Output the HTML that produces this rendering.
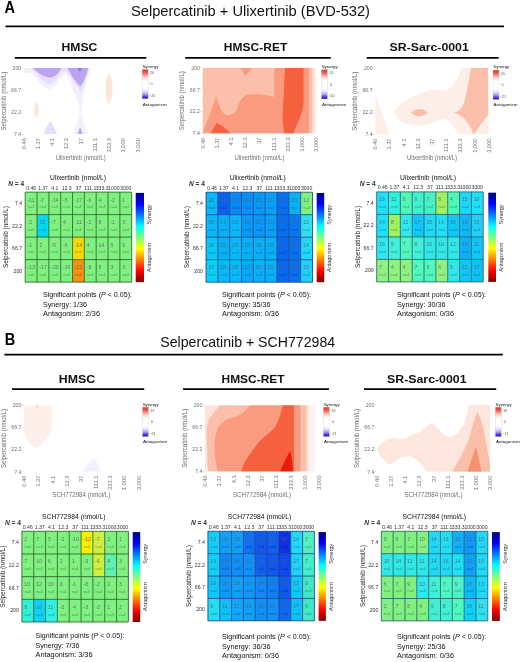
<!DOCTYPE html>
<html><head><meta charset="utf-8"><title>Selpercatinib combination synergy</title>
<style>
html,body{margin:0;padding:0;background:#fff;}
body{width:520px;height:662px;overflow:hidden;}
svg.fig{display:block;font-family:'Liberation Sans', Arial, sans-serif;}
</style></head>
<body>
<svg class="fig" width="520" height="662" viewBox="0 0 520 662">
<rect width="520" height="662" fill="#fff"/>
<text x="4.60" y="12.60" font-size="15.6" font-weight="bold" textLength="10.5" lengthAdjust="spacingAndGlyphs">A</text>
<text x="131.00" y="16.40" font-size="14.1" fill="#111" textLength="239" lengthAdjust="spacingAndGlyphs">Selpercatinib + Ulixertinib (BVD-532)</text>
<line x1="5.5" y1="26.3" x2="504" y2="26.3" stroke="#000" stroke-width="1.7"/>
<text x="61.50" y="50.60" font-size="11.7" font-weight="bold" fill="#111" textLength="35.8" lengthAdjust="spacingAndGlyphs">HMSC</text>
<line x1="14.8" y1="57.8" x2="146.3" y2="57.8" stroke="#000" stroke-width="1.7"/>
<text x="223.80" y="50.60" font-size="11.7" font-weight="bold" fill="#111" textLength="63.5" lengthAdjust="spacingAndGlyphs">HMSC-RET</text>
<line x1="185.2" y1="57.8" x2="330.8" y2="57.8" stroke="#000" stroke-width="1.7"/>
<text x="389.60" y="50.60" font-size="11.7" font-weight="bold" fill="#111" textLength="79.19999999999999" lengthAdjust="spacingAndGlyphs">SR-Sarc-0001</text>
<line x1="366.7" y1="57.8" x2="498.6" y2="57.8" stroke="#000" stroke-width="1.7"/>
<text x="4.80" y="345.00" font-size="15.6" font-weight="bold" textLength="10.5" lengthAdjust="spacingAndGlyphs">B</text>
<text x="160.30" y="346.60" font-size="14.1" fill="#111" textLength="174.8" lengthAdjust="spacingAndGlyphs">Selpercatinib + SCH772984</text>
<line x1="4.4" y1="354.6" x2="502.8" y2="354.6" stroke="#000" stroke-width="1.7"/>
<text x="58.80" y="383.10" font-size="11.7" font-weight="bold" fill="#111" textLength="36.3" lengthAdjust="spacingAndGlyphs">HMSC</text>
<line x1="12.1" y1="389.2" x2="144.2" y2="389.2" stroke="#000" stroke-width="1.7"/>
<text x="221.50" y="383.10" font-size="11.7" font-weight="bold" fill="#111" textLength="63.10000000000002" lengthAdjust="spacingAndGlyphs">HMSC-RET</text>
<line x1="183.1" y1="389.2" x2="328.9" y2="389.2" stroke="#000" stroke-width="1.7"/>
<text x="387.10" y="383.10" font-size="11.7" font-weight="bold" fill="#111" textLength="79.39999999999998" lengthAdjust="spacingAndGlyphs">SR-Sarc-0001</text>
<line x1="364" y1="389.2" x2="496.2" y2="389.2" stroke="#000" stroke-width="1.7"/>
<svg x="23.8" y="68.0" width="113.8" height="66.19999999999999" viewBox="0 0 100 100" preserveAspectRatio="none" overflow="hidden">
<path d="M0,0 L58,0 C56,15 53,35 51.5,50 C51,58 50.5,62 50.5,64 C51,75 54,90 56.3,100 L44,100 C46,90 48.5,75 49,64 C49,60 48,52 46,44 C43,35 41,22 38,12 C36,10 34,12 32,16 C29,24 26,32 22,32 C17,32 12,16 7,8 L0,7 Z" fill="#f3effd"/>
<path d="M6,0 L58,0 C56,12 53,28 50,35 C47,30 43,18 39,8 C37,4 35,4 33,6 C30,12 27,24 23,24 C18,24 12,10 6,0 Z" fill="#e6defb"/>
<path d="M8,0 L33,0 C31,6 28,14 23,14.5 C17,14 12,6 8,0 Z" fill="#b9a3f3"/>
<path d="M38.5,0 L56.5,0 C55,12 52,24 49.5,27.5 C46,22 41,10 38.5,0 Z" fill="#b9a3f3"/>
<path d="M47.3,0 L51,0 C50.5,3 49.5,5 49,5.2 C48.5,5 47.8,3 47.3,0 Z" fill="#9478e6"/>
<path d="M17.3,100 C19,92 21.5,84 23.3,80.4 C25,84 27.5,92 29.2,100 Z" fill="#e6defb"/>
<path d="M47.5,100 C48.5,95 49,91 49.5,89.6 C50,91 50.8,95 51.6,100 Z" fill="#b9a3f3"/>
<path d="M11.1,50.8 C8,58 8,68 11.1,74.8 C14.2,68 14.2,58 11.1,50.8 Z" fill="#fde8de"/>
<path d="M11.6,64 C11,65 11,66.5 11.6,67.5 C12.2,66.5 12.2,65 11.6,64 Z" fill="#f8dccf"/>
<path d="M74.8,6.6 C70.5,18 70.5,44 74.8,55.4 C79.1,44 79.1,18 74.8,6.6 Z" fill="#fce6dc"/>
</svg>
<text x="21.20" y="69.80" font-size="5.2" text-anchor="end" fill="#707070">200</text>
<line x1="21.8" y1="68.0" x2="23.3" y2="68.0" stroke="#999" stroke-width="0.4"/>
<text x="21.20" y="91.87" font-size="5.2" text-anchor="end" fill="#707070">66.7</text>
<line x1="21.8" y1="90.06666666666666" x2="23.3" y2="90.06666666666666" stroke="#999" stroke-width="0.4"/>
<text x="21.20" y="113.93" font-size="5.2" text-anchor="end" fill="#707070">22.2</text>
<line x1="21.8" y1="112.13333333333333" x2="23.3" y2="112.13333333333333" stroke="#999" stroke-width="0.4"/>
<text x="21.20" y="136.00" font-size="5.2" text-anchor="end" fill="#707070">7.4</text>
<line x1="21.8" y1="134.2" x2="23.3" y2="134.2" stroke="#999" stroke-width="0.4"/>
<text transform="translate(25.80,138.20) rotate(-90)" font-size="5.7" text-anchor="end" fill="#707070">0.46</text>
<text transform="translate(40.02,138.20) rotate(-90)" font-size="5.7" text-anchor="end" fill="#707070">1.37</text>
<text transform="translate(54.25,138.20) rotate(-90)" font-size="5.7" text-anchor="end" fill="#707070">4.1</text>
<text transform="translate(68.47,138.20) rotate(-90)" font-size="5.7" text-anchor="end" fill="#707070">12.3</text>
<text transform="translate(82.70,138.20) rotate(-90)" font-size="5.7" text-anchor="end" fill="#707070">37</text>
<text transform="translate(96.92,138.20) rotate(-90)" font-size="5.7" text-anchor="end" fill="#707070">111.1</text>
<text transform="translate(111.15,138.20) rotate(-90)" font-size="5.7" text-anchor="end" fill="#707070">333.3</text>
<text transform="translate(125.38,138.20) rotate(-90)" font-size="5.7" text-anchor="end" fill="#707070">1,000</text>
<text transform="translate(139.60,138.20) rotate(-90)" font-size="5.7" text-anchor="end" fill="#707070">3,000</text>
<text x="80.70" y="159.60" font-size="6.4" text-anchor="middle" fill="#707070" textLength="50" lengthAdjust="spacingAndGlyphs">Ulixertinib (nmol/L)</text>
<text transform="translate(5.60,101.10) rotate(-90)" font-size="6.4" text-anchor="middle" fill="#707070" textLength="59" lengthAdjust="spacingAndGlyphs">Selpercatinib (nmol/L)</text>
<defs><linearGradient id="lg2368" x1="0" y1="0" x2="0" y2="1"><stop offset="0" stop-color="#e8382e"/><stop offset="0.1" stop-color="#f05246"/><stop offset="0.2" stop-color="#f8a49c"/><stop offset="0.3" stop-color="#fde6e3"/><stop offset="0.4" stop-color="#ffffff"/><stop offset="0.65" stop-color="#ffffff"/><stop offset="0.75" stop-color="#e6dffa"/><stop offset="0.85" stop-color="#a898f0"/><stop offset="0.93" stop-color="#4a3ae0"/><stop offset="1" stop-color="#2010d0"/></linearGradient></defs>
<rect x="142.1" y="69.3" width="6" height="29.5" fill="url(#lg2368)" stroke="#c8c8c8" stroke-width="0.3"/>
<text x="142.40" y="67.70" font-size="4.4" fill="#111" textLength="16" lengthAdjust="spacingAndGlyphs">Synergy</text>
<text x="142.70" y="105.50" font-size="4.4" fill="#111" textLength="24" lengthAdjust="spacingAndGlyphs">Antagonism</text>
<text x="150.10" y="73.80" font-size="3.6" fill="#555">20</text>
<text x="150.60" y="85.30" font-size="3.6" fill="#555">0</text>
<text x="149.10" y="96.80" font-size="3.6" fill="#555">−20</text>
<svg x="202.5" y="67.9" width="113.80000000000001" height="65.6" viewBox="0 0 100 100" preserveAspectRatio="none" overflow="hidden">
<path d="M0,0 L100,0 L100,100 L0,100 Z" fill="#fcbfab"/>
<path d="M96.6,0 L99,0 L99,100 L96.6,100 Z" fill="#fde3d9"/>
<path d="M99,0 L100,0 L100,100 L99,100 Z" fill="#ffffff"/>
<path d="M0.4,98 C4,80 9,60 12,42.8 C14,55 16,66 18.7,69 C21,72 23,73 24.2,72 C27,70 29,68 30,65 C31,60 32,52 34,48 C36,44 38,41 40,41 C43,40 45,40 47,40 C49,40 50,40 50.5,40 L63.1,43.8 L63.1,0 L93.5,0 L93.5,100 L0,100 Z" fill="#fa9a7e"/>
<path d="M33.4,0 L43.7,0 C42,4 39.5,10 37.7,11.9 C36.5,10 35,5 33.4,0 Z" fill="#fa9a7e"/>
<path d="M72.5,0 L88.8,0 C88.8,20 88.8,45 88.8,54.6 C88,65 86.5,72 85.1,78.2 C83,86 81,94 79.9,100 L72,100 C71,90 70.4,80 70.4,78 C70.5,60 71.4,45 71.4,40 C71.8,25 72.2,10 72.5,0 Z" fill="#f5603e"/>
<path d="M6.9,100 C9,94 11,88 12.3,84 C14,85 16,88 17.7,89 C20,93 23,97 25.2,100 Z" fill="#f5603e"/>
</svg>
<text x="199.90" y="69.70" font-size="5.2" text-anchor="end" fill="#707070">200</text>
<line x1="200.5" y1="67.9" x2="202.0" y2="67.9" stroke="#999" stroke-width="0.4"/>
<text x="199.90" y="91.57" font-size="5.2" text-anchor="end" fill="#707070">66.7</text>
<line x1="200.5" y1="89.76666666666667" x2="202.0" y2="89.76666666666667" stroke="#999" stroke-width="0.4"/>
<text x="199.90" y="113.43" font-size="5.2" text-anchor="end" fill="#707070">22.2</text>
<line x1="200.5" y1="111.63333333333333" x2="202.0" y2="111.63333333333333" stroke="#999" stroke-width="0.4"/>
<text x="199.90" y="135.30" font-size="5.2" text-anchor="end" fill="#707070">7.4</text>
<line x1="200.5" y1="133.5" x2="202.0" y2="133.5" stroke="#999" stroke-width="0.4"/>
<text transform="translate(204.50,137.50) rotate(-90)" font-size="5.7" text-anchor="end" fill="#707070">0.46</text>
<text transform="translate(218.72,137.50) rotate(-90)" font-size="5.7" text-anchor="end" fill="#707070">1.37</text>
<text transform="translate(232.95,137.50) rotate(-90)" font-size="5.7" text-anchor="end" fill="#707070">4.1</text>
<text transform="translate(247.18,137.50) rotate(-90)" font-size="5.7" text-anchor="end" fill="#707070">12.3</text>
<text transform="translate(261.40,137.50) rotate(-90)" font-size="5.7" text-anchor="end" fill="#707070">37</text>
<text transform="translate(275.62,137.50) rotate(-90)" font-size="5.7" text-anchor="end" fill="#707070">111.1</text>
<text transform="translate(289.85,137.50) rotate(-90)" font-size="5.7" text-anchor="end" fill="#707070">333.3</text>
<text transform="translate(304.08,137.50) rotate(-90)" font-size="5.7" text-anchor="end" fill="#707070">1,000</text>
<text transform="translate(318.30,137.50) rotate(-90)" font-size="5.7" text-anchor="end" fill="#707070">3,000</text>
<text x="259.40" y="159.50" font-size="6.4" text-anchor="middle" fill="#707070" textLength="50" lengthAdjust="spacingAndGlyphs">Ulixertinib (nmol/L)</text>
<text transform="translate(184.30,100.70) rotate(-90)" font-size="6.4" text-anchor="middle" fill="#707070" textLength="59" lengthAdjust="spacingAndGlyphs">Selpercatinib (nmol/L)</text>
<defs><linearGradient id="lg20267" x1="0" y1="0" x2="0" y2="1"><stop offset="0" stop-color="#e8382e"/><stop offset="0.1" stop-color="#f05246"/><stop offset="0.2" stop-color="#f8a49c"/><stop offset="0.3" stop-color="#fde6e3"/><stop offset="0.4" stop-color="#ffffff"/><stop offset="0.65" stop-color="#ffffff"/><stop offset="0.75" stop-color="#e6dffa"/><stop offset="0.85" stop-color="#a898f0"/><stop offset="0.93" stop-color="#4a3ae0"/><stop offset="1" stop-color="#2010d0"/></linearGradient></defs>
<rect x="321.4" y="69.5" width="6" height="29.5" fill="url(#lg20267)" stroke="#c8c8c8" stroke-width="0.3"/>
<text x="321.70" y="67.90" font-size="4.4" fill="#111" textLength="16" lengthAdjust="spacingAndGlyphs">Synergy</text>
<text x="322.00" y="105.70" font-size="4.4" fill="#111" textLength="24" lengthAdjust="spacingAndGlyphs">Antagonism</text>
<text x="329.40" y="74.00" font-size="3.6" fill="#555">20</text>
<text x="329.90" y="85.50" font-size="3.6" fill="#555">0</text>
<text x="328.40" y="97.00" font-size="3.6" fill="#555">−20</text>
<svg x="375.2" y="68.0" width="113.60000000000002" height="66.5" viewBox="0 0 100 100" preserveAspectRatio="none" overflow="hidden">
<path d="M0,38 L0,100 L12.3,100 Z" fill="#fdeee8"/>
<path d="M16.5,67 C19,60 22,54 25.1,50.7 C29,46 33,42 37.8,39.8 C42,37 46,34 50.4,32.5 C54,31 58,35 61,34.3 C64,33 67,28 69.5,23.5 C72,18 74,10 75.8,1.8 L76,0 L100,0 L100,100 L73.7,100 C71,94 69,88 67.3,85 C65,80 63,76 61,76 C57,78 54,80 50.4,81.4 C46,84 42,87 37.8,86.8 C33,86 28,84 23,81.4 C20,76 18,71 16.5,67 Z" fill="#fdeee8"/>
<path d="M84.6,0 L99.4,0 L99.4,70 L86.7,100 C85,93 84,88 82.3,85 C80,80 79,76 76.8,73.7 C74,71 71,68 69.1,67.1 C71,66.5 72.5,65.5 73.6,64.3 C76,61 77,57 78,53 C79.5,45 80.5,36 81.3,28.6 C82.5,18 83.5,8 84.6,0 Z" fill="#fbbea8"/>
<path d="M31.4,67 C34,63 36,61.6 38.8,61.6 C42,61.6 44,63 46.2,67 C44,71 42,72.4 38.8,72.4 C36,72.4 34,71 31.4,67 Z" fill="#fbbea8"/>
</svg>
<text x="372.60" y="69.80" font-size="5.2" text-anchor="end" fill="#707070">200</text>
<line x1="373.2" y1="68.0" x2="374.7" y2="68.0" stroke="#999" stroke-width="0.4"/>
<text x="372.60" y="91.97" font-size="5.2" text-anchor="end" fill="#707070">66.7</text>
<line x1="373.2" y1="90.16666666666667" x2="374.7" y2="90.16666666666667" stroke="#999" stroke-width="0.4"/>
<text x="372.60" y="114.13" font-size="5.2" text-anchor="end" fill="#707070">22.2</text>
<line x1="373.2" y1="112.33333333333334" x2="374.7" y2="112.33333333333334" stroke="#999" stroke-width="0.4"/>
<text x="372.60" y="136.30" font-size="5.2" text-anchor="end" fill="#707070">7.4</text>
<line x1="373.2" y1="134.5" x2="374.7" y2="134.5" stroke="#999" stroke-width="0.4"/>
<text transform="translate(377.20,138.50) rotate(-90)" font-size="5.7" text-anchor="end" fill="#707070">0.46</text>
<text transform="translate(391.40,138.50) rotate(-90)" font-size="5.7" text-anchor="end" fill="#707070">1.37</text>
<text transform="translate(405.60,138.50) rotate(-90)" font-size="5.7" text-anchor="end" fill="#707070">4.1</text>
<text transform="translate(419.80,138.50) rotate(-90)" font-size="5.7" text-anchor="end" fill="#707070">12.3</text>
<text transform="translate(434.00,138.50) rotate(-90)" font-size="5.7" text-anchor="end" fill="#707070">37</text>
<text transform="translate(448.20,138.50) rotate(-90)" font-size="5.7" text-anchor="end" fill="#707070">111.1</text>
<text transform="translate(462.40,138.50) rotate(-90)" font-size="5.7" text-anchor="end" fill="#707070">333.3</text>
<text transform="translate(476.60,138.50) rotate(-90)" font-size="5.7" text-anchor="end" fill="#707070">1,000</text>
<text transform="translate(490.80,138.50) rotate(-90)" font-size="5.7" text-anchor="end" fill="#707070">3,000</text>
<text x="432.00" y="159.60" font-size="6.4" text-anchor="middle" fill="#707070" textLength="50" lengthAdjust="spacingAndGlyphs">Ulixertinib (nmol/L)</text>
<text transform="translate(357.00,101.25) rotate(-90)" font-size="6.4" text-anchor="middle" fill="#707070" textLength="59" lengthAdjust="spacingAndGlyphs">Selpercatinib (nmol/L)</text>
<defs><linearGradient id="lg37568" x1="0" y1="0" x2="0" y2="1"><stop offset="0" stop-color="#e8382e"/><stop offset="0.1" stop-color="#f05246"/><stop offset="0.2" stop-color="#f8a49c"/><stop offset="0.3" stop-color="#fde6e3"/><stop offset="0.4" stop-color="#ffffff"/><stop offset="0.65" stop-color="#ffffff"/><stop offset="0.75" stop-color="#e6dffa"/><stop offset="0.85" stop-color="#a898f0"/><stop offset="0.93" stop-color="#4a3ae0"/><stop offset="1" stop-color="#2010d0"/></linearGradient></defs>
<rect x="493.0" y="70.0" width="6" height="29.5" fill="url(#lg37568)" stroke="#c8c8c8" stroke-width="0.3"/>
<text x="493.30" y="68.40" font-size="4.4" fill="#111" textLength="16" lengthAdjust="spacingAndGlyphs">Synergy</text>
<text x="493.60" y="106.20" font-size="4.4" fill="#111" textLength="24" lengthAdjust="spacingAndGlyphs">Antagonism</text>
<text x="501.00" y="74.50" font-size="3.6" fill="#555">15</text>
<text x="501.50" y="86.00" font-size="3.6" fill="#555">0</text>
<text x="500.00" y="97.50" font-size="3.6" fill="#555">−21</text>
<svg x="24.0" y="405.3" width="114.6" height="66.39999999999998" viewBox="0 0 100 100" preserveAspectRatio="none" overflow="hidden">
<path d="M0,0 L24.4,0 C24.4,15 24.4,25 23.5,35 C22,45 18,55 14,60 C12,63 11,63.7 10.1,63.7 C8,62 5,58 3,53 C1,48 0,40 0,30 Z" fill="#fdefe9"/>
<path d="M10.8,0 C10.8,2 11.2,5 11.6,5 C12,5 12.4,2 12.4,0 Z" fill="#f3d0c4"/>
<path d="M50.9,100 C54,92 58,83 60.6,79.2 C63,83 65.5,92 67.4,100 Z" fill="#f3effd"/>
</svg>
<text x="21.40" y="407.10" font-size="5.2" text-anchor="end" fill="#707070">200</text>
<line x1="22.0" y1="405.3" x2="23.5" y2="405.3" stroke="#999" stroke-width="0.4"/>
<text x="21.40" y="429.23" font-size="5.2" text-anchor="end" fill="#707070">66.7</text>
<line x1="22.0" y1="427.43333333333334" x2="23.5" y2="427.43333333333334" stroke="#999" stroke-width="0.4"/>
<text x="21.40" y="451.37" font-size="5.2" text-anchor="end" fill="#707070">22.2</text>
<line x1="22.0" y1="449.56666666666666" x2="23.5" y2="449.56666666666666" stroke="#999" stroke-width="0.4"/>
<text x="21.40" y="473.50" font-size="5.2" text-anchor="end" fill="#707070">7.4</text>
<line x1="22.0" y1="471.7" x2="23.5" y2="471.7" stroke="#999" stroke-width="0.4"/>
<text transform="translate(26.00,475.70) rotate(-90)" font-size="5.7" text-anchor="end" fill="#707070">0.46</text>
<text transform="translate(40.33,475.70) rotate(-90)" font-size="5.7" text-anchor="end" fill="#707070">1.37</text>
<text transform="translate(54.65,475.70) rotate(-90)" font-size="5.7" text-anchor="end" fill="#707070">4.1</text>
<text transform="translate(68.97,475.70) rotate(-90)" font-size="5.7" text-anchor="end" fill="#707070">12.3</text>
<text transform="translate(83.30,475.70) rotate(-90)" font-size="5.7" text-anchor="end" fill="#707070">37</text>
<text transform="translate(97.62,475.70) rotate(-90)" font-size="5.7" text-anchor="end" fill="#707070">111.1</text>
<text transform="translate(111.95,475.70) rotate(-90)" font-size="5.7" text-anchor="end" fill="#707070">333.3</text>
<text transform="translate(126.27,475.70) rotate(-90)" font-size="5.7" text-anchor="end" fill="#707070">1,000</text>
<text transform="translate(140.60,475.70) rotate(-90)" font-size="5.7" text-anchor="end" fill="#707070">3,000</text>
<text x="81.30" y="496.90" font-size="6.4" text-anchor="middle" fill="#707070" textLength="58" lengthAdjust="spacingAndGlyphs">SCH772984 (nmol/L)</text>
<text transform="translate(5.80,438.50) rotate(-90)" font-size="6.4" text-anchor="middle" fill="#707070" textLength="59" lengthAdjust="spacingAndGlyphs">Selpercatinib (nmol/L)</text>
<defs><linearGradient id="lg24405" x1="0" y1="0" x2="0" y2="1"><stop offset="0" stop-color="#e8382e"/><stop offset="0.1" stop-color="#f05246"/><stop offset="0.2" stop-color="#f8a49c"/><stop offset="0.3" stop-color="#fde6e3"/><stop offset="0.4" stop-color="#ffffff"/><stop offset="0.65" stop-color="#ffffff"/><stop offset="0.75" stop-color="#e6dffa"/><stop offset="0.85" stop-color="#a898f0"/><stop offset="0.93" stop-color="#4a3ae0"/><stop offset="1" stop-color="#2010d0"/></linearGradient></defs>
<rect x="142.4" y="407.1" width="6" height="29.5" fill="url(#lg24405)" stroke="#c8c8c8" stroke-width="0.3"/>
<text x="142.70" y="405.50" font-size="4.4" fill="#111" textLength="16" lengthAdjust="spacingAndGlyphs">Synergy</text>
<text x="143.00" y="443.30" font-size="4.4" fill="#111" textLength="24" lengthAdjust="spacingAndGlyphs">Antagonism</text>
<text x="150.40" y="411.60" font-size="3.6" fill="#555">16</text>
<text x="150.90" y="423.10" font-size="3.6" fill="#555">0</text>
<text x="149.40" y="434.60" font-size="3.6" fill="#555">−21</text>
<svg x="205.0" y="405.2" width="114.0" height="66.19999999999999" viewBox="0 0 100 100" preserveAspectRatio="none" overflow="hidden">
<path d="M0,0 L96.5,0 L96.5,100 L0,100 Z" fill="#fef3ef"/>
<path d="M0,0 L91.3,0 L91.3,100 L0,100 Z" fill="#fde3d9"/>
<path d="M13.5,0 L89,0 L89,100 L2.6,100 C2,80 1.6,50 1.6,35 C1.8,28 2.5,24 4,20 C6.5,13 10,6 13.5,0 Z" fill="#fcbfab"/>
<path d="M39.5,0 L83.7,0 L83.7,100 L11.5,100 C10.5,97 9,85 8.5,69.2 C8.3,58 8.8,50 9.6,43.5 C10.5,37 11,34 12.5,31.4 C15,27 17,23 20.4,20.8 C24,18.5 28,17 30.7,14.4 C34,11 37,5 39.5,0 Z" fill="#fa9a7e"/>
<path d="M68.3,0 L78,0 L78,100 L31.8,100 C33,93 34,88 36.2,82.8 C38,76 41,70 43.9,63.9 C46,58 48,53 51.5,48.8 C55,44 59,38 61.4,33.7 C63,28 64.5,23 65.2,18.6 C66.5,12 67.5,6 68.3,0 Z" fill="#f5603e"/>
<path d="M66,100 C69,88 72,76 74.8,69.3 C76,78 77,90 77.2,100 Z" fill="#ea1a0e"/>
</svg>
<text x="202.40" y="407.00" font-size="5.2" text-anchor="end" fill="#707070">200</text>
<line x1="203.0" y1="405.2" x2="204.5" y2="405.2" stroke="#999" stroke-width="0.4"/>
<text x="202.40" y="429.07" font-size="5.2" text-anchor="end" fill="#707070">66.7</text>
<line x1="203.0" y1="427.26666666666665" x2="204.5" y2="427.26666666666665" stroke="#999" stroke-width="0.4"/>
<text x="202.40" y="451.13" font-size="5.2" text-anchor="end" fill="#707070">22.2</text>
<line x1="203.0" y1="449.3333333333333" x2="204.5" y2="449.3333333333333" stroke="#999" stroke-width="0.4"/>
<text x="202.40" y="473.20" font-size="5.2" text-anchor="end" fill="#707070">7.4</text>
<line x1="203.0" y1="471.4" x2="204.5" y2="471.4" stroke="#999" stroke-width="0.4"/>
<text transform="translate(207.00,475.40) rotate(-90)" font-size="5.7" text-anchor="end" fill="#707070">0.46</text>
<text transform="translate(221.25,475.40) rotate(-90)" font-size="5.7" text-anchor="end" fill="#707070">1.37</text>
<text transform="translate(235.50,475.40) rotate(-90)" font-size="5.7" text-anchor="end" fill="#707070">4.1</text>
<text transform="translate(249.75,475.40) rotate(-90)" font-size="5.7" text-anchor="end" fill="#707070">12.3</text>
<text transform="translate(264.00,475.40) rotate(-90)" font-size="5.7" text-anchor="end" fill="#707070">37</text>
<text transform="translate(278.25,475.40) rotate(-90)" font-size="5.7" text-anchor="end" fill="#707070">111.1</text>
<text transform="translate(292.50,475.40) rotate(-90)" font-size="5.7" text-anchor="end" fill="#707070">333.3</text>
<text transform="translate(306.75,475.40) rotate(-90)" font-size="5.7" text-anchor="end" fill="#707070">1,000</text>
<text transform="translate(321.00,475.40) rotate(-90)" font-size="5.7" text-anchor="end" fill="#707070">3,000</text>
<text x="262.00" y="496.80" font-size="6.4" text-anchor="middle" fill="#707070" textLength="58" lengthAdjust="spacingAndGlyphs">SCH772984 (nmol/L)</text>
<text transform="translate(186.80,438.30) rotate(-90)" font-size="6.4" text-anchor="middle" fill="#707070" textLength="59" lengthAdjust="spacingAndGlyphs">Selpercatinib (nmol/L)</text>
<defs><linearGradient id="lg205405" x1="0" y1="0" x2="0" y2="1"><stop offset="0" stop-color="#e8382e"/><stop offset="0.1" stop-color="#f05246"/><stop offset="0.2" stop-color="#f8a49c"/><stop offset="0.3" stop-color="#fde6e3"/><stop offset="0.4" stop-color="#ffffff"/><stop offset="0.65" stop-color="#ffffff"/><stop offset="0.75" stop-color="#e6dffa"/><stop offset="0.85" stop-color="#a898f0"/><stop offset="0.93" stop-color="#4a3ae0"/><stop offset="1" stop-color="#2010d0"/></linearGradient></defs>
<rect x="323.4" y="407.1" width="6" height="29.5" fill="url(#lg205405)" stroke="#c8c8c8" stroke-width="0.3"/>
<text x="323.70" y="405.50" font-size="4.4" fill="#111" textLength="16" lengthAdjust="spacingAndGlyphs">Synergy</text>
<text x="324.00" y="443.30" font-size="4.4" fill="#111" textLength="24" lengthAdjust="spacingAndGlyphs">Antagonism</text>
<text x="331.40" y="411.60" font-size="3.6" fill="#555">16</text>
<text x="331.90" y="423.10" font-size="3.6" fill="#555">0</text>
<text x="330.40" y="434.60" font-size="3.6" fill="#555">−21</text>
<svg x="377.0" y="405.1" width="113.0" height="66.59999999999997" viewBox="0 0 100 100" preserveAspectRatio="none" overflow="hidden">
<path d="M0.4,66.3 C2,60 4,57 6,55 C9,51 11,50 13.7,49.4 C17,49 20,51 22.6,51.3 C26,50 28,47 30.3,45.6 C33,43 35,42 38,40 C42,36 45,30 48,26.9 C50,28 52,32 53.5,34.4 C56,39 58,43 60.2,45.6 C62,47 63,47.5 64.6,47.5 C67,47 69,45 71.2,41.9 C74,37 76,32 77.9,25 C79,18 80,8 81.2,0.6 L81.2,0 L100,0 L100,100 L43.6,100 C42,95 40,90 38,87 C35,82 33,79 30.3,77.6 C27,77 23,77.5 20.4,79.4 C17,82 15,87 12.6,88.8 C10,89 8,86 6,83.2 C3,78 1,72 0.4,66.3 Z" fill="#fde6dd"/>
<path d="M88.9,10 C91,18 93,28 94.5,38.1 C96,50 98,70 100,87 L100,100 L66.8,100 C69,93 71,86 73.5,79.4 C77,68 80,58 82.3,45.6 C84,35 86,20 88.9,10 Z" fill="#fbbea8"/>
<path d="M87.8,62.5 C89,72 91,85 92.3,100 L80.1,100 C82,88 85,75 87.8,62.5 Z" fill="#f8926e"/>
</svg>
<text x="374.40" y="406.90" font-size="5.2" text-anchor="end" fill="#707070">200</text>
<line x1="375.0" y1="405.1" x2="376.5" y2="405.1" stroke="#999" stroke-width="0.4"/>
<text x="374.40" y="429.10" font-size="5.2" text-anchor="end" fill="#707070">66.7</text>
<line x1="375.0" y1="427.3" x2="376.5" y2="427.3" stroke="#999" stroke-width="0.4"/>
<text x="374.40" y="451.30" font-size="5.2" text-anchor="end" fill="#707070">22.2</text>
<line x1="375.0" y1="449.5" x2="376.5" y2="449.5" stroke="#999" stroke-width="0.4"/>
<text x="374.40" y="473.50" font-size="5.2" text-anchor="end" fill="#707070">7.4</text>
<line x1="375.0" y1="471.7" x2="376.5" y2="471.7" stroke="#999" stroke-width="0.4"/>
<text transform="translate(379.00,475.70) rotate(-90)" font-size="5.7" text-anchor="end" fill="#707070">0.46</text>
<text transform="translate(393.12,475.70) rotate(-90)" font-size="5.7" text-anchor="end" fill="#707070">1.37</text>
<text transform="translate(407.25,475.70) rotate(-90)" font-size="5.7" text-anchor="end" fill="#707070">4.1</text>
<text transform="translate(421.38,475.70) rotate(-90)" font-size="5.7" text-anchor="end" fill="#707070">12.3</text>
<text transform="translate(435.50,475.70) rotate(-90)" font-size="5.7" text-anchor="end" fill="#707070">37</text>
<text transform="translate(449.62,475.70) rotate(-90)" font-size="5.7" text-anchor="end" fill="#707070">111.1</text>
<text transform="translate(463.75,475.70) rotate(-90)" font-size="5.7" text-anchor="end" fill="#707070">333.3</text>
<text transform="translate(477.88,475.70) rotate(-90)" font-size="5.7" text-anchor="end" fill="#707070">1,000</text>
<text transform="translate(492.00,475.70) rotate(-90)" font-size="5.7" text-anchor="end" fill="#707070">3,000</text>
<text x="433.50" y="496.70" font-size="6.4" text-anchor="middle" fill="#707070" textLength="58" lengthAdjust="spacingAndGlyphs">SCH772984 (nmol/L)</text>
<text transform="translate(358.80,438.40) rotate(-90)" font-size="6.4" text-anchor="middle" fill="#707070" textLength="59" lengthAdjust="spacingAndGlyphs">Selpercatinib (nmol/L)</text>
<defs><linearGradient id="lg377405" x1="0" y1="0" x2="0" y2="1"><stop offset="0" stop-color="#e8382e"/><stop offset="0.1" stop-color="#f05246"/><stop offset="0.2" stop-color="#f8a49c"/><stop offset="0.3" stop-color="#fde6e3"/><stop offset="0.4" stop-color="#ffffff"/><stop offset="0.65" stop-color="#ffffff"/><stop offset="0.75" stop-color="#e6dffa"/><stop offset="0.85" stop-color="#a898f0"/><stop offset="0.93" stop-color="#4a3ae0"/><stop offset="1" stop-color="#2010d0"/></linearGradient></defs>
<rect x="495.3" y="407.1" width="6" height="29.5" fill="url(#lg377405)" stroke="#c8c8c8" stroke-width="0.3"/>
<text x="495.60" y="405.50" font-size="4.4" fill="#111" textLength="16" lengthAdjust="spacingAndGlyphs">Synergy</text>
<text x="495.90" y="443.30" font-size="4.4" fill="#111" textLength="24" lengthAdjust="spacingAndGlyphs">Antagonism</text>
<text x="503.30" y="411.60" font-size="3.6" fill="#555">16</text>
<text x="503.80" y="423.10" font-size="3.6" fill="#555">0</text>
<text x="502.30" y="434.60" font-size="3.6" fill="#555">−21</text>
<rect x="25.20" y="192.10" width="11.83" height="22.50" fill="#80f080"/>
<rect x="37.03" y="192.10" width="11.83" height="22.50" fill="#80f080"/>
<rect x="48.87" y="192.10" width="11.83" height="22.50" fill="#80f080"/>
<rect x="60.70" y="192.10" width="11.83" height="22.50" fill="#80f080"/>
<rect x="72.53" y="192.10" width="11.83" height="22.50" fill="#80f080"/>
<rect x="84.37" y="192.10" width="11.83" height="22.50" fill="#80f080"/>
<rect x="96.20" y="192.10" width="11.83" height="22.50" fill="#80f080"/>
<rect x="108.03" y="192.10" width="11.83" height="22.50" fill="#80f080"/>
<rect x="119.87" y="192.10" width="11.83" height="22.50" fill="#80f080"/>
<rect x="25.20" y="214.60" width="11.83" height="22.50" fill="#80f080"/>
<rect x="37.03" y="214.60" width="11.83" height="22.50" fill="#00d8f8"/>
<rect x="48.87" y="214.60" width="11.83" height="22.50" fill="#80f080"/>
<rect x="60.70" y="214.60" width="11.83" height="22.50" fill="#80f080"/>
<rect x="72.53" y="214.60" width="11.83" height="22.50" fill="#80f080"/>
<rect x="84.37" y="214.60" width="11.83" height="22.50" fill="#80f080"/>
<rect x="96.20" y="214.60" width="11.83" height="22.50" fill="#80f080"/>
<rect x="108.03" y="214.60" width="11.83" height="22.50" fill="#80f080"/>
<rect x="119.87" y="214.60" width="11.83" height="22.50" fill="#80f080"/>
<rect x="25.20" y="237.10" width="11.83" height="22.50" fill="#80f080"/>
<rect x="37.03" y="237.10" width="11.83" height="22.50" fill="#80f080"/>
<rect x="48.87" y="237.10" width="11.83" height="22.50" fill="#80f080"/>
<rect x="60.70" y="237.10" width="11.83" height="22.50" fill="#80f080"/>
<rect x="72.53" y="237.10" width="11.83" height="22.50" fill="#f8d800"/>
<rect x="84.37" y="237.10" width="11.83" height="22.50" fill="#80f080"/>
<rect x="96.20" y="237.10" width="11.83" height="22.50" fill="#80f080"/>
<rect x="108.03" y="237.10" width="11.83" height="22.50" fill="#80f080"/>
<rect x="119.87" y="237.10" width="11.83" height="22.50" fill="#80f080"/>
<rect x="25.20" y="259.60" width="11.83" height="22.50" fill="#80f080"/>
<rect x="37.03" y="259.60" width="11.83" height="22.50" fill="#80f080"/>
<rect x="48.87" y="259.60" width="11.83" height="22.50" fill="#80f080"/>
<rect x="60.70" y="259.60" width="11.83" height="22.50" fill="#80f080"/>
<rect x="72.53" y="259.60" width="11.83" height="22.50" fill="#f89010"/>
<rect x="84.37" y="259.60" width="11.83" height="22.50" fill="#80f080"/>
<rect x="96.20" y="259.60" width="11.83" height="22.50" fill="#80f080"/>
<rect x="108.03" y="259.60" width="11.83" height="22.50" fill="#80f080"/>
<rect x="119.87" y="259.60" width="11.83" height="22.50" fill="#80f080"/>
<line x1="25.2" y1="192.1" x2="25.2" y2="282.1" stroke="#1d5a1d" stroke-width="0.8"/>
<line x1="37.03" y1="192.1" x2="37.03" y2="282.1" stroke="#1d5a1d" stroke-width="0.8"/>
<line x1="48.87" y1="192.1" x2="48.87" y2="282.1" stroke="#1d5a1d" stroke-width="0.8"/>
<line x1="60.7" y1="192.1" x2="60.7" y2="282.1" stroke="#1d5a1d" stroke-width="0.8"/>
<line x1="72.53" y1="192.1" x2="72.53" y2="282.1" stroke="#1d5a1d" stroke-width="0.8"/>
<line x1="84.37" y1="192.1" x2="84.37" y2="282.1" stroke="#1d5a1d" stroke-width="0.8"/>
<line x1="96.2" y1="192.1" x2="96.2" y2="282.1" stroke="#1d5a1d" stroke-width="0.8"/>
<line x1="108.03" y1="192.1" x2="108.03" y2="282.1" stroke="#1d5a1d" stroke-width="0.8"/>
<line x1="119.87" y1="192.1" x2="119.87" y2="282.1" stroke="#1d5a1d" stroke-width="0.8"/>
<line x1="131.7" y1="192.1" x2="131.7" y2="282.1" stroke="#1d5a1d" stroke-width="0.8"/>
<line x1="25.2" y1="192.1" x2="131.7" y2="192.1" stroke="#1d5a1d" stroke-width="0.8"/>
<line x1="25.2" y1="214.6" x2="131.7" y2="214.6" stroke="#1d5a1d" stroke-width="0.8"/>
<line x1="25.2" y1="237.1" x2="131.7" y2="237.1" stroke="#1d5a1d" stroke-width="0.8"/>
<line x1="25.2" y1="259.6" x2="131.7" y2="259.6" stroke="#1d5a1d" stroke-width="0.8"/>
<line x1="25.2" y1="282.1" x2="131.7" y2="282.1" stroke="#1d5a1d" stroke-width="0.8"/>
<text x="27.60" y="201.50" font-size="5.1" fill="#5a5f66" fill-opacity="0.85">-11</text>
<text x="27.80" y="208.40" font-size="2.8" textLength="6.5" lengthAdjust="spacingAndGlyphs" fill-opacity="0.4">n=4</text>
<text x="39.43" y="201.50" font-size="5.1" fill="#5a5f66" fill-opacity="0.85">-7</text>
<text x="39.63" y="208.40" font-size="2.8" textLength="6.5" lengthAdjust="spacingAndGlyphs" fill-opacity="0.4">n=4</text>
<text x="51.27" y="201.50" font-size="5.1" fill="#5a5f66" fill-opacity="0.85">-14</text>
<text x="51.47" y="208.40" font-size="2.8" textLength="6.5" lengthAdjust="spacingAndGlyphs" fill-opacity="0.4">n=4</text>
<text x="63.10" y="201.50" font-size="5.1" fill="#5a5f66" fill-opacity="0.85">-5</text>
<text x="63.30" y="208.40" font-size="2.8" textLength="6.5" lengthAdjust="spacingAndGlyphs" fill-opacity="0.4">n=4</text>
<text x="74.93" y="201.50" font-size="5.1" fill="#5a5f66" fill-opacity="0.85">-17</text>
<text x="75.13" y="208.40" font-size="2.8" textLength="6.5" lengthAdjust="spacingAndGlyphs" fill-opacity="0.4">n=4</text>
<text x="86.77" y="201.50" font-size="5.1" fill="#5a5f66" fill-opacity="0.85">-6</text>
<text x="86.97" y="208.40" font-size="2.8" textLength="6.5" lengthAdjust="spacingAndGlyphs" fill-opacity="0.4">n=4</text>
<text x="98.60" y="201.50" font-size="5.1" fill="#5a5f66" fill-opacity="0.85">4</text>
<text x="98.80" y="208.40" font-size="2.8" textLength="6.5" lengthAdjust="spacingAndGlyphs" fill-opacity="0.4">n=4</text>
<text x="110.43" y="201.50" font-size="5.1" fill="#5a5f66" fill-opacity="0.85">-2</text>
<text x="110.63" y="208.40" font-size="2.8" textLength="6.5" lengthAdjust="spacingAndGlyphs" fill-opacity="0.4">n=4</text>
<text x="122.27" y="201.50" font-size="5.1" fill="#5a5f66" fill-opacity="0.85">1</text>
<text x="122.47" y="208.40" font-size="2.8" textLength="6.5" lengthAdjust="spacingAndGlyphs" fill-opacity="0.4">n=4</text>
<text x="27.60" y="224.00" font-size="5.1" fill="#5a5f66" fill-opacity="0.85">-2</text>
<text x="27.80" y="230.90" font-size="2.8" textLength="6.5" lengthAdjust="spacingAndGlyphs" fill-opacity="0.4">n=4</text>
<text x="39.43" y="224.00" font-size="5.1" fill="#5a5f66" fill-opacity="0.85">10</text>
<text x="39.63" y="230.90" font-size="2.8" textLength="6.5" lengthAdjust="spacingAndGlyphs" fill-opacity="0.4">n=4</text>
<text x="51.27" y="224.00" font-size="5.1" fill="#5a5f66" fill-opacity="0.85">-7</text>
<text x="51.47" y="230.90" font-size="2.8" textLength="6.5" lengthAdjust="spacingAndGlyphs" fill-opacity="0.4">n=4</text>
<text x="63.10" y="224.00" font-size="5.1" fill="#5a5f66" fill-opacity="0.85">4</text>
<text x="63.30" y="230.90" font-size="2.8" textLength="6.5" lengthAdjust="spacingAndGlyphs" fill-opacity="0.4">n=4</text>
<text x="74.93" y="224.00" font-size="5.1" fill="#5a5f66" fill-opacity="0.85">-11</text>
<text x="75.13" y="230.90" font-size="2.8" textLength="6.5" lengthAdjust="spacingAndGlyphs" fill-opacity="0.4">n=4</text>
<text x="86.77" y="224.00" font-size="5.1" fill="#5a5f66" fill-opacity="0.85">-2</text>
<text x="86.97" y="230.90" font-size="2.8" textLength="6.5" lengthAdjust="spacingAndGlyphs" fill-opacity="0.4">n=4</text>
<text x="98.60" y="224.00" font-size="5.1" fill="#5a5f66" fill-opacity="0.85">8</text>
<text x="98.80" y="230.90" font-size="2.8" textLength="6.5" lengthAdjust="spacingAndGlyphs" fill-opacity="0.4">n=4</text>
<text x="110.43" y="224.00" font-size="5.1" fill="#5a5f66" fill-opacity="0.85">-1</text>
<text x="110.63" y="230.90" font-size="2.8" textLength="6.5" lengthAdjust="spacingAndGlyphs" fill-opacity="0.4">n=4</text>
<text x="122.27" y="224.00" font-size="5.1" fill="#5a5f66" fill-opacity="0.85">3</text>
<text x="122.47" y="230.90" font-size="2.8" textLength="6.5" lengthAdjust="spacingAndGlyphs" fill-opacity="0.4">n=4</text>
<text x="27.60" y="246.50" font-size="5.1" fill="#5a5f66" fill-opacity="0.85">-1</text>
<text x="27.80" y="253.40" font-size="2.8" textLength="6.5" lengthAdjust="spacingAndGlyphs" fill-opacity="0.4">n=4</text>
<text x="39.43" y="246.50" font-size="5.1" fill="#5a5f66" fill-opacity="0.85">2</text>
<text x="39.63" y="253.40" font-size="2.8" textLength="6.5" lengthAdjust="spacingAndGlyphs" fill-opacity="0.4">n=4</text>
<text x="51.27" y="246.50" font-size="5.1" fill="#5a5f66" fill-opacity="0.85">-5</text>
<text x="51.47" y="253.40" font-size="2.8" textLength="6.5" lengthAdjust="spacingAndGlyphs" fill-opacity="0.4">n=4</text>
<text x="63.10" y="246.50" font-size="5.1" fill="#5a5f66" fill-opacity="0.85">-6</text>
<text x="63.30" y="253.40" font-size="2.8" textLength="6.5" lengthAdjust="spacingAndGlyphs" fill-opacity="0.4">n=4</text>
<text x="74.93" y="246.50" font-size="5.1" fill="#5a5f66" fill-opacity="0.85">-14</text>
<text x="75.13" y="253.40" font-size="2.8" textLength="6.5" lengthAdjust="spacingAndGlyphs" fill-opacity="0.4">n=4</text>
<text x="86.77" y="246.50" font-size="5.1" fill="#5a5f66" fill-opacity="0.85">4</text>
<text x="86.97" y="253.40" font-size="2.8" textLength="6.5" lengthAdjust="spacingAndGlyphs" fill-opacity="0.4">n=4</text>
<text x="98.60" y="246.50" font-size="5.1" fill="#5a5f66" fill-opacity="0.85">14</text>
<text x="98.80" y="253.40" font-size="2.8" textLength="6.5" lengthAdjust="spacingAndGlyphs" fill-opacity="0.4">n=4</text>
<text x="110.43" y="246.50" font-size="5.1" fill="#5a5f66" fill-opacity="0.85">5</text>
<text x="110.63" y="253.40" font-size="2.8" textLength="6.5" lengthAdjust="spacingAndGlyphs" fill-opacity="0.4">n=4</text>
<text x="122.27" y="246.50" font-size="5.1" fill="#5a5f66" fill-opacity="0.85">9</text>
<text x="122.47" y="253.40" font-size="2.8" textLength="6.5" lengthAdjust="spacingAndGlyphs" fill-opacity="0.4">n=4</text>
<text x="27.60" y="269.00" font-size="5.1" fill="#5a5f66" fill-opacity="0.85">-13</text>
<text x="27.80" y="275.90" font-size="2.8" textLength="6.5" lengthAdjust="spacingAndGlyphs" fill-opacity="0.4">n=4</text>
<text x="39.43" y="269.00" font-size="5.1" fill="#5a5f66" fill-opacity="0.85">-17</text>
<text x="39.63" y="275.90" font-size="2.8" textLength="6.5" lengthAdjust="spacingAndGlyphs" fill-opacity="0.4">n=4</text>
<text x="51.27" y="269.00" font-size="5.1" fill="#5a5f66" fill-opacity="0.85">-20</text>
<text x="51.47" y="275.90" font-size="2.8" textLength="6.5" lengthAdjust="spacingAndGlyphs" fill-opacity="0.4">n=4</text>
<text x="63.10" y="269.00" font-size="5.1" fill="#5a5f66" fill-opacity="0.85">-16</text>
<text x="63.30" y="275.90" font-size="2.8" textLength="6.5" lengthAdjust="spacingAndGlyphs" fill-opacity="0.4">n=4</text>
<text x="74.93" y="269.00" font-size="5.1" fill="#5a5f66" fill-opacity="0.85">-22</text>
<text x="75.13" y="275.90" font-size="2.8" textLength="6.5" lengthAdjust="spacingAndGlyphs" fill-opacity="0.4">n=4</text>
<text x="86.77" y="269.00" font-size="5.1" fill="#5a5f66" fill-opacity="0.85">-8</text>
<text x="86.97" y="275.90" font-size="2.8" textLength="6.5" lengthAdjust="spacingAndGlyphs" fill-opacity="0.4">n=4</text>
<text x="98.60" y="269.00" font-size="5.1" fill="#5a5f66" fill-opacity="0.85">8</text>
<text x="98.80" y="275.90" font-size="2.8" textLength="6.5" lengthAdjust="spacingAndGlyphs" fill-opacity="0.4">n=4</text>
<text x="110.43" y="269.00" font-size="5.1" fill="#5a5f66" fill-opacity="0.85">3</text>
<text x="110.63" y="275.90" font-size="2.8" textLength="6.5" lengthAdjust="spacingAndGlyphs" fill-opacity="0.4">n=4</text>
<text x="122.27" y="269.00" font-size="5.1" fill="#5a5f66" fill-opacity="0.85">3</text>
<text x="122.47" y="275.90" font-size="2.8" textLength="6.5" lengthAdjust="spacingAndGlyphs" fill-opacity="0.4">n=4</text>
<text x="24.20" y="185.70" font-size="6.6" font-weight="bold" text-anchor="end" fill="#333" textLength="16" lengthAdjust="spacingAndGlyphs"><tspan font-style="italic">N</tspan> = 4</text>
<text x="78.10" y="180.10" font-size="6.4" text-anchor="middle" fill="#111" textLength="56" lengthAdjust="spacingAndGlyphs">Ulixertinib (nmol/L)</text>
<text x="31.12" y="189.50" font-size="5.1" text-anchor="middle" fill="#333">0.46</text>
<text x="42.95" y="189.50" font-size="5.1" text-anchor="middle" fill="#333">1.37</text>
<text x="54.78" y="189.50" font-size="5.1" text-anchor="middle" fill="#333">4.1</text>
<text x="66.62" y="189.50" font-size="5.1" text-anchor="middle" fill="#333">12.3</text>
<text x="78.45" y="189.50" font-size="5.1" text-anchor="middle" fill="#333">37</text>
<text x="90.28" y="189.50" font-size="5.1" text-anchor="middle" fill="#333">111.1</text>
<text x="102.12" y="189.50" font-size="5.1" text-anchor="middle" fill="#333">333.3</text>
<text x="113.95" y="189.50" font-size="5.1" text-anchor="middle" fill="#333">1000</text>
<text x="125.78" y="189.50" font-size="5.1" text-anchor="middle" fill="#333">3000</text>
<text x="22.20" y="205.15" font-size="5.2" text-anchor="end" fill="#333">7.4</text>
<text x="22.20" y="227.65" font-size="5.2" text-anchor="end" fill="#333">22.2</text>
<text x="22.20" y="250.15" font-size="5.2" text-anchor="end" fill="#333">66.7</text>
<text x="22.20" y="272.65" font-size="5.2" text-anchor="end" fill="#333">200</text>
<text transform="translate(8.40,237.10) rotate(-90)" font-size="6.3" text-anchor="middle" fill="#222" textLength="62" lengthAdjust="spacingAndGlyphs">Selpercatinib (nmol/L)</text>
<defs><linearGradient id="jet25192" x1="0" y1="0" x2="0" y2="1"><stop offset="0.0000" stop-color="rgb(0,0,127)"/><stop offset="0.0625" stop-color="rgb(0,0,191)"/><stop offset="0.1250" stop-color="rgb(0,0,255)"/><stop offset="0.1875" stop-color="rgb(0,63,255)"/><stop offset="0.2500" stop-color="rgb(0,127,255)"/><stop offset="0.3125" stop-color="rgb(0,191,255)"/><stop offset="0.3750" stop-color="rgb(0,255,255)"/><stop offset="0.4375" stop-color="rgb(63,255,191)"/><stop offset="0.5000" stop-color="rgb(127,255,127)"/><stop offset="0.5625" stop-color="rgb(191,255,63)"/><stop offset="0.6250" stop-color="rgb(255,255,0)"/><stop offset="0.6875" stop-color="rgb(255,191,0)"/><stop offset="0.7500" stop-color="rgb(255,127,0)"/><stop offset="0.8125" stop-color="rgb(255,63,0)"/><stop offset="0.8750" stop-color="rgb(255,0,0)"/><stop offset="0.9375" stop-color="rgb(191,0,0)"/><stop offset="1.0000" stop-color="rgb(127,0,0)"/></linearGradient></defs>
<rect x="135.7" y="192.9" width="8.300000000000011" height="89.2" fill="url(#jet25192)"/>
<text transform="translate(150.80,214.60) rotate(-90)" font-size="5.0" text-anchor="middle" fill="#333" textLength="20" lengthAdjust="spacingAndGlyphs">Synergy</text>
<text transform="translate(150.80,257.40) rotate(-90)" font-size="5.0" text-anchor="middle" fill="#333" textLength="29" lengthAdjust="spacingAndGlyphs">Antagonism</text>
<text x="43.00" y="297.00" font-size="7.8" fill="#111" textLength="89" lengthAdjust="spacingAndGlyphs">Significant points (<tspan font-style="italic">P</tspan> &lt; 0.05):</text>
<text x="43.00" y="306.50" font-size="7.8" fill="#111" textLength="44.0" lengthAdjust="spacingAndGlyphs">Synergy: 1/36</text>
<text x="43.00" y="315.80" font-size="7.8" fill="#111" textLength="57" lengthAdjust="spacingAndGlyphs">Antagonism: 2/36</text>
<rect x="206.00" y="192.20" width="11.83" height="22.50" fill="#08b8f8"/>
<rect x="217.83" y="192.20" width="11.83" height="22.50" fill="#0860f0"/>
<rect x="229.67" y="192.20" width="11.83" height="22.50" fill="#0888f8"/>
<rect x="241.50" y="192.20" width="11.83" height="22.50" fill="#0890f8"/>
<rect x="253.33" y="192.20" width="11.83" height="22.50" fill="#0898f8"/>
<rect x="265.17" y="192.20" width="11.83" height="22.50" fill="#08a0f8"/>
<rect x="277.00" y="192.20" width="11.83" height="22.50" fill="#0870f0"/>
<rect x="288.83" y="192.20" width="11.83" height="22.50" fill="#08b0f8"/>
<rect x="300.67" y="192.20" width="11.83" height="22.50" fill="#80f080"/>
<rect x="206.00" y="214.70" width="11.83" height="22.50" fill="#08b8f8"/>
<rect x="217.83" y="214.70" width="11.83" height="22.50" fill="#08b0f8"/>
<rect x="229.67" y="214.70" width="11.83" height="22.50" fill="#08b8f8"/>
<rect x="241.50" y="214.70" width="11.83" height="22.50" fill="#0898f8"/>
<rect x="253.33" y="214.70" width="11.83" height="22.50" fill="#0898f8"/>
<rect x="265.17" y="214.70" width="11.83" height="22.50" fill="#08a0f8"/>
<rect x="277.00" y="214.70" width="11.83" height="22.50" fill="#0870f0"/>
<rect x="288.83" y="214.70" width="11.83" height="22.50" fill="#0878f0"/>
<rect x="300.67" y="214.70" width="11.83" height="22.50" fill="#30e0f0"/>
<rect x="206.00" y="237.20" width="11.83" height="22.50" fill="#08c8f8"/>
<rect x="217.83" y="237.20" width="11.83" height="22.50" fill="#08b0f8"/>
<rect x="229.67" y="237.20" width="11.83" height="22.50" fill="#08b8f8"/>
<rect x="241.50" y="237.20" width="11.83" height="22.50" fill="#08b0f8"/>
<rect x="253.33" y="237.20" width="11.83" height="22.50" fill="#08b0f8"/>
<rect x="265.17" y="237.20" width="11.83" height="22.50" fill="#08b0f8"/>
<rect x="277.00" y="237.20" width="11.83" height="22.50" fill="#0868f0"/>
<rect x="288.83" y="237.20" width="11.83" height="22.50" fill="#0870f0"/>
<rect x="300.67" y="237.20" width="11.83" height="22.50" fill="#20d8f8"/>
<rect x="206.00" y="259.70" width="11.83" height="22.50" fill="#08d0f8"/>
<rect x="217.83" y="259.70" width="11.83" height="22.50" fill="#08b8f8"/>
<rect x="229.67" y="259.70" width="11.83" height="22.50" fill="#08b8f8"/>
<rect x="241.50" y="259.70" width="11.83" height="22.50" fill="#08a8f8"/>
<rect x="253.33" y="259.70" width="11.83" height="22.50" fill="#08b0f8"/>
<rect x="265.17" y="259.70" width="11.83" height="22.50" fill="#08b0f8"/>
<rect x="277.00" y="259.70" width="11.83" height="22.50" fill="#0868f0"/>
<rect x="288.83" y="259.70" width="11.83" height="22.50" fill="#0870f0"/>
<rect x="300.67" y="259.70" width="11.83" height="22.50" fill="#20d0f8"/>
<line x1="206.0" y1="192.2" x2="206.0" y2="282.2" stroke="#143c7a" stroke-width="0.8"/>
<line x1="217.83" y1="192.2" x2="217.83" y2="282.2" stroke="#143c7a" stroke-width="0.8"/>
<line x1="229.67" y1="192.2" x2="229.67" y2="282.2" stroke="#143c7a" stroke-width="0.8"/>
<line x1="241.5" y1="192.2" x2="241.5" y2="282.2" stroke="#143c7a" stroke-width="0.8"/>
<line x1="253.33" y1="192.2" x2="253.33" y2="282.2" stroke="#143c7a" stroke-width="0.8"/>
<line x1="265.17" y1="192.2" x2="265.17" y2="282.2" stroke="#143c7a" stroke-width="0.8"/>
<line x1="277.0" y1="192.2" x2="277.0" y2="282.2" stroke="#143c7a" stroke-width="0.8"/>
<line x1="288.83" y1="192.2" x2="288.83" y2="282.2" stroke="#143c7a" stroke-width="0.8"/>
<line x1="300.67" y1="192.2" x2="300.67" y2="282.2" stroke="#143c7a" stroke-width="0.8"/>
<line x1="312.5" y1="192.2" x2="312.5" y2="282.2" stroke="#143c7a" stroke-width="0.8"/>
<line x1="206.0" y1="192.2" x2="312.5" y2="192.2" stroke="#143c7a" stroke-width="0.8"/>
<line x1="206.0" y1="214.7" x2="312.5" y2="214.7" stroke="#143c7a" stroke-width="0.8"/>
<line x1="206.0" y1="237.2" x2="312.5" y2="237.2" stroke="#143c7a" stroke-width="0.8"/>
<line x1="206.0" y1="259.7" x2="312.5" y2="259.7" stroke="#143c7a" stroke-width="0.8"/>
<line x1="206.0" y1="282.2" x2="312.5" y2="282.2" stroke="#143c7a" stroke-width="0.8"/>
<text x="208.40" y="201.60" font-size="5.1" fill="#5a5f66" fill-opacity="0.85">20</text>
<text x="208.60" y="208.50" font-size="2.8" textLength="6.5" lengthAdjust="spacingAndGlyphs" fill-opacity="0.4">n=4</text>
<text x="220.23" y="201.60" font-size="5.1" fill="#5a5f66" fill-opacity="0.85">29</text>
<text x="220.43" y="208.50" font-size="2.8" textLength="6.5" lengthAdjust="spacingAndGlyphs" fill-opacity="0.4">n=4</text>
<text x="232.07" y="201.60" font-size="5.1" fill="#5a5f66" fill-opacity="0.85">26</text>
<text x="232.27" y="208.50" font-size="2.8" textLength="6.5" lengthAdjust="spacingAndGlyphs" fill-opacity="0.4">n=4</text>
<text x="243.90" y="201.60" font-size="5.1" fill="#5a5f66" fill-opacity="0.85">24</text>
<text x="244.10" y="208.50" font-size="2.8" textLength="6.5" lengthAdjust="spacingAndGlyphs" fill-opacity="0.4">n=4</text>
<text x="255.73" y="201.60" font-size="5.1" fill="#5a5f66" fill-opacity="0.85">23</text>
<text x="255.93" y="208.50" font-size="2.8" textLength="6.5" lengthAdjust="spacingAndGlyphs" fill-opacity="0.4">n=4</text>
<text x="267.57" y="201.60" font-size="5.1" fill="#5a5f66" fill-opacity="0.85">21</text>
<text x="267.77" y="208.50" font-size="2.8" textLength="6.5" lengthAdjust="spacingAndGlyphs" fill-opacity="0.4">n=4</text>
<text x="279.40" y="201.60" font-size="5.1" fill="#5a5f66" fill-opacity="0.85">27</text>
<text x="279.60" y="208.50" font-size="2.8" textLength="6.5" lengthAdjust="spacingAndGlyphs" fill-opacity="0.4">n=4</text>
<text x="291.23" y="201.60" font-size="5.1" fill="#5a5f66" fill-opacity="0.85">20</text>
<text x="291.43" y="208.50" font-size="2.8" textLength="6.5" lengthAdjust="spacingAndGlyphs" fill-opacity="0.4">n=4</text>
<text x="303.07" y="201.60" font-size="5.1" fill="#5a5f66" fill-opacity="0.85">12</text>
<text x="303.27" y="208.50" font-size="2.8" textLength="6.5" lengthAdjust="spacingAndGlyphs" fill-opacity="0.4">n=4</text>
<text x="208.40" y="224.10" font-size="5.1" fill="#5a5f66" fill-opacity="0.85">19</text>
<text x="208.60" y="231.00" font-size="2.8" textLength="6.5" lengthAdjust="spacingAndGlyphs" fill-opacity="0.4">n=4</text>
<text x="220.23" y="224.10" font-size="5.1" fill="#5a5f66" fill-opacity="0.85">17</text>
<text x="220.43" y="231.00" font-size="2.8" textLength="6.5" lengthAdjust="spacingAndGlyphs" fill-opacity="0.4">n=4</text>
<text x="232.07" y="224.10" font-size="5.1" fill="#5a5f66" fill-opacity="0.85">19</text>
<text x="232.27" y="231.00" font-size="2.8" textLength="6.5" lengthAdjust="spacingAndGlyphs" fill-opacity="0.4">n=4</text>
<text x="243.90" y="224.10" font-size="5.1" fill="#5a5f66" fill-opacity="0.85">22</text>
<text x="244.10" y="231.00" font-size="2.8" textLength="6.5" lengthAdjust="spacingAndGlyphs" fill-opacity="0.4">n=4</text>
<text x="255.73" y="224.10" font-size="5.1" fill="#5a5f66" fill-opacity="0.85">22</text>
<text x="255.93" y="231.00" font-size="2.8" textLength="6.5" lengthAdjust="spacingAndGlyphs" fill-opacity="0.4">n=4</text>
<text x="267.57" y="224.10" font-size="5.1" fill="#5a5f66" fill-opacity="0.85">22</text>
<text x="267.77" y="231.00" font-size="2.8" textLength="6.5" lengthAdjust="spacingAndGlyphs" fill-opacity="0.4">n=4</text>
<text x="279.40" y="224.10" font-size="5.1" fill="#5a5f66" fill-opacity="0.85">26</text>
<text x="279.60" y="231.00" font-size="2.8" textLength="6.5" lengthAdjust="spacingAndGlyphs" fill-opacity="0.4">n=4</text>
<text x="291.23" y="224.10" font-size="5.1" fill="#5a5f66" fill-opacity="0.85">25</text>
<text x="291.43" y="231.00" font-size="2.8" textLength="6.5" lengthAdjust="spacingAndGlyphs" fill-opacity="0.4">n=4</text>
<text x="303.07" y="224.10" font-size="5.1" fill="#5a5f66" fill-opacity="0.85">12</text>
<text x="303.27" y="231.00" font-size="2.8" textLength="6.5" lengthAdjust="spacingAndGlyphs" fill-opacity="0.4">n=4</text>
<text x="208.40" y="246.60" font-size="5.1" fill="#5a5f66" fill-opacity="0.85">16</text>
<text x="208.60" y="253.50" font-size="2.8" textLength="6.5" lengthAdjust="spacingAndGlyphs" fill-opacity="0.4">n=4</text>
<text x="220.23" y="246.60" font-size="5.1" fill="#5a5f66" fill-opacity="0.85">20</text>
<text x="220.43" y="253.50" font-size="2.8" textLength="6.5" lengthAdjust="spacingAndGlyphs" fill-opacity="0.4">n=4</text>
<text x="232.07" y="246.60" font-size="5.1" fill="#5a5f66" fill-opacity="0.85">19</text>
<text x="232.27" y="253.50" font-size="2.8" textLength="6.5" lengthAdjust="spacingAndGlyphs" fill-opacity="0.4">n=4</text>
<text x="243.90" y="246.60" font-size="5.1" fill="#5a5f66" fill-opacity="0.85">19</text>
<text x="244.10" y="253.50" font-size="2.8" textLength="6.5" lengthAdjust="spacingAndGlyphs" fill-opacity="0.4">n=4</text>
<text x="255.73" y="246.60" font-size="5.1" fill="#5a5f66" fill-opacity="0.85">19</text>
<text x="255.93" y="253.50" font-size="2.8" textLength="6.5" lengthAdjust="spacingAndGlyphs" fill-opacity="0.4">n=4</text>
<text x="267.57" y="246.60" font-size="5.1" fill="#5a5f66" fill-opacity="0.85">19</text>
<text x="267.77" y="253.50" font-size="2.8" textLength="6.5" lengthAdjust="spacingAndGlyphs" fill-opacity="0.4">n=4</text>
<text x="279.40" y="246.60" font-size="5.1" fill="#5a5f66" fill-opacity="0.85">31</text>
<text x="279.60" y="253.50" font-size="2.8" textLength="6.5" lengthAdjust="spacingAndGlyphs" fill-opacity="0.4">n=4</text>
<text x="291.23" y="246.60" font-size="5.1" fill="#5a5f66" fill-opacity="0.85">30</text>
<text x="291.43" y="253.50" font-size="2.8" textLength="6.5" lengthAdjust="spacingAndGlyphs" fill-opacity="0.4">n=4</text>
<text x="303.07" y="246.60" font-size="5.1" fill="#5a5f66" fill-opacity="0.85">14</text>
<text x="303.27" y="253.50" font-size="2.8" textLength="6.5" lengthAdjust="spacingAndGlyphs" fill-opacity="0.4">n=4</text>
<text x="208.40" y="269.10" font-size="5.1" fill="#5a5f66" fill-opacity="0.85">13</text>
<text x="208.60" y="276.00" font-size="2.8" textLength="6.5" lengthAdjust="spacingAndGlyphs" fill-opacity="0.4">n=4</text>
<text x="220.23" y="269.10" font-size="5.1" fill="#5a5f66" fill-opacity="0.85">18</text>
<text x="220.43" y="276.00" font-size="2.8" textLength="6.5" lengthAdjust="spacingAndGlyphs" fill-opacity="0.4">n=4</text>
<text x="232.07" y="269.10" font-size="5.1" fill="#5a5f66" fill-opacity="0.85">18</text>
<text x="232.27" y="276.00" font-size="2.8" textLength="6.5" lengthAdjust="spacingAndGlyphs" fill-opacity="0.4">n=4</text>
<text x="243.90" y="269.10" font-size="5.1" fill="#5a5f66" fill-opacity="0.85">17</text>
<text x="244.10" y="276.00" font-size="2.8" textLength="6.5" lengthAdjust="spacingAndGlyphs" fill-opacity="0.4">n=4</text>
<text x="255.73" y="269.10" font-size="5.1" fill="#5a5f66" fill-opacity="0.85">20</text>
<text x="255.93" y="276.00" font-size="2.8" textLength="6.5" lengthAdjust="spacingAndGlyphs" fill-opacity="0.4">n=4</text>
<text x="267.57" y="269.10" font-size="5.1" fill="#5a5f66" fill-opacity="0.85">20</text>
<text x="267.77" y="276.00" font-size="2.8" textLength="6.5" lengthAdjust="spacingAndGlyphs" fill-opacity="0.4">n=4</text>
<text x="279.40" y="269.10" font-size="5.1" fill="#5a5f66" fill-opacity="0.85">27</text>
<text x="279.60" y="276.00" font-size="2.8" textLength="6.5" lengthAdjust="spacingAndGlyphs" fill-opacity="0.4">n=4</text>
<text x="291.23" y="269.10" font-size="5.1" fill="#5a5f66" fill-opacity="0.85">28</text>
<text x="291.43" y="276.00" font-size="2.8" textLength="6.5" lengthAdjust="spacingAndGlyphs" fill-opacity="0.4">n=4</text>
<text x="303.07" y="269.10" font-size="5.1" fill="#5a5f66" fill-opacity="0.85">15</text>
<text x="303.27" y="276.00" font-size="2.8" textLength="6.5" lengthAdjust="spacingAndGlyphs" fill-opacity="0.4">n=4</text>
<text x="205.00" y="185.80" font-size="6.6" font-weight="bold" text-anchor="end" fill="#333" textLength="16" lengthAdjust="spacingAndGlyphs"><tspan font-style="italic">N</tspan> = 4</text>
<text x="257.75" y="180.20" font-size="6.4" text-anchor="middle" fill="#111" textLength="56" lengthAdjust="spacingAndGlyphs">Ulixertinib (nmol/L)</text>
<text x="211.92" y="189.60" font-size="5.1" text-anchor="middle" fill="#333">0.46</text>
<text x="223.75" y="189.60" font-size="5.1" text-anchor="middle" fill="#333">1.37</text>
<text x="235.58" y="189.60" font-size="5.1" text-anchor="middle" fill="#333">4.1</text>
<text x="247.42" y="189.60" font-size="5.1" text-anchor="middle" fill="#333">12.3</text>
<text x="259.25" y="189.60" font-size="5.1" text-anchor="middle" fill="#333">37</text>
<text x="271.08" y="189.60" font-size="5.1" text-anchor="middle" fill="#333">111.1</text>
<text x="282.92" y="189.60" font-size="5.1" text-anchor="middle" fill="#333">333.3</text>
<text x="294.75" y="189.60" font-size="5.1" text-anchor="middle" fill="#333">1000</text>
<text x="306.58" y="189.60" font-size="5.1" text-anchor="middle" fill="#333">3000</text>
<text x="203.00" y="205.25" font-size="5.2" text-anchor="end" fill="#333">7.4</text>
<text x="203.00" y="227.75" font-size="5.2" text-anchor="end" fill="#333">22.2</text>
<text x="203.00" y="250.25" font-size="5.2" text-anchor="end" fill="#333">66.7</text>
<text x="203.00" y="272.75" font-size="5.2" text-anchor="end" fill="#333">200</text>
<text transform="translate(189.20,237.20) rotate(-90)" font-size="6.3" text-anchor="middle" fill="#222" textLength="62" lengthAdjust="spacingAndGlyphs">Selpercatinib (nmol/L)</text>
<defs><linearGradient id="jet206192" x1="0" y1="0" x2="0" y2="1"><stop offset="0.0000" stop-color="rgb(0,0,127)"/><stop offset="0.0625" stop-color="rgb(0,0,191)"/><stop offset="0.1250" stop-color="rgb(0,0,255)"/><stop offset="0.1875" stop-color="rgb(0,63,255)"/><stop offset="0.2500" stop-color="rgb(0,127,255)"/><stop offset="0.3125" stop-color="rgb(0,191,255)"/><stop offset="0.3750" stop-color="rgb(0,255,255)"/><stop offset="0.4375" stop-color="rgb(63,255,191)"/><stop offset="0.5000" stop-color="rgb(127,255,127)"/><stop offset="0.5625" stop-color="rgb(191,255,63)"/><stop offset="0.6250" stop-color="rgb(255,255,0)"/><stop offset="0.6875" stop-color="rgb(255,191,0)"/><stop offset="0.7500" stop-color="rgb(255,127,0)"/><stop offset="0.8125" stop-color="rgb(255,63,0)"/><stop offset="0.8750" stop-color="rgb(255,0,0)"/><stop offset="0.9375" stop-color="rgb(191,0,0)"/><stop offset="1.0000" stop-color="rgb(127,0,0)"/></linearGradient></defs>
<rect x="316.7" y="193.0" width="7.5" height="89.2" fill="url(#jet206192)"/>
<text transform="translate(331.00,214.70) rotate(-90)" font-size="5.0" text-anchor="middle" fill="#333" textLength="20" lengthAdjust="spacingAndGlyphs">Synergy</text>
<text transform="translate(331.00,257.50) rotate(-90)" font-size="5.0" text-anchor="middle" fill="#333" textLength="29" lengthAdjust="spacingAndGlyphs">Antagonism</text>
<text x="222.00" y="297.00" font-size="7.8" fill="#111" textLength="89" lengthAdjust="spacingAndGlyphs">Significant points (<tspan font-style="italic">P</tspan> &lt; 0.05):</text>
<text x="222.00" y="306.50" font-size="7.8" fill="#111" textLength="48.5" lengthAdjust="spacingAndGlyphs">Synergy: 35/36</text>
<text x="222.00" y="315.80" font-size="7.8" fill="#111" textLength="57" lengthAdjust="spacingAndGlyphs">Antagonism: 0/36</text>
<rect x="376.70" y="191.90" width="11.83" height="22.50" fill="#20e0f8"/>
<rect x="388.53" y="191.90" width="11.83" height="22.50" fill="#30f0e0"/>
<rect x="400.37" y="191.90" width="11.83" height="22.50" fill="#50f8b8"/>
<rect x="412.20" y="191.90" width="11.83" height="22.50" fill="#40f0d0"/>
<rect x="424.03" y="191.90" width="11.83" height="22.50" fill="#48f0c8"/>
<rect x="435.87" y="191.90" width="11.83" height="22.50" fill="#a0f060"/>
<rect x="447.70" y="191.90" width="11.83" height="22.50" fill="#50f8b8"/>
<rect x="459.53" y="191.90" width="11.83" height="22.50" fill="#20d8f8"/>
<rect x="471.37" y="191.90" width="11.83" height="22.50" fill="#20e0f8"/>
<rect x="376.70" y="214.40" width="11.83" height="22.50" fill="#20e0f8"/>
<rect x="388.53" y="214.40" width="11.83" height="22.50" fill="#a0f060"/>
<rect x="400.37" y="214.40" width="11.83" height="22.50" fill="#30e8f0"/>
<rect x="412.20" y="214.40" width="11.83" height="22.50" fill="#10c8f8"/>
<rect x="424.03" y="214.40" width="11.83" height="22.50" fill="#20d8f8"/>
<rect x="435.87" y="214.40" width="11.83" height="22.50" fill="#20e0f8"/>
<rect x="447.70" y="214.40" width="11.83" height="22.50" fill="#10c8f8"/>
<rect x="459.53" y="214.40" width="11.83" height="22.50" fill="#10b8f8"/>
<rect x="471.37" y="214.40" width="11.83" height="22.50" fill="#20d0f8"/>
<rect x="376.70" y="236.90" width="11.83" height="22.50" fill="#30e8f0"/>
<rect x="388.53" y="236.90" width="11.83" height="22.50" fill="#40f0d8"/>
<rect x="400.37" y="236.90" width="11.83" height="22.50" fill="#50f8c0"/>
<rect x="412.20" y="236.90" width="11.83" height="22.50" fill="#40f0d8"/>
<rect x="424.03" y="236.90" width="11.83" height="22.50" fill="#30e8e8"/>
<rect x="435.87" y="236.90" width="11.83" height="22.50" fill="#30e8e8"/>
<rect x="447.70" y="236.90" width="11.83" height="22.50" fill="#30e8e8"/>
<rect x="459.53" y="236.90" width="11.83" height="22.50" fill="#10b0f8"/>
<rect x="471.37" y="236.90" width="11.83" height="22.50" fill="#10c8f8"/>
<rect x="376.70" y="259.40" width="11.83" height="22.50" fill="#90f080"/>
<rect x="388.53" y="259.40" width="11.83" height="22.50" fill="#90f080"/>
<rect x="400.37" y="259.40" width="11.83" height="22.50" fill="#90f080"/>
<rect x="412.20" y="259.40" width="11.83" height="22.50" fill="#50f8c0"/>
<rect x="424.03" y="259.40" width="11.83" height="22.50" fill="#50f8c0"/>
<rect x="435.87" y="259.40" width="11.83" height="22.50" fill="#90f080"/>
<rect x="447.70" y="259.40" width="11.83" height="22.50" fill="#30e8e8"/>
<rect x="459.53" y="259.40" width="11.83" height="22.50" fill="#10c8f8"/>
<rect x="471.37" y="259.40" width="11.83" height="22.50" fill="#10c0f8"/>
<line x1="376.7" y1="191.9" x2="376.7" y2="281.9" stroke="#1d5a5a" stroke-width="0.8"/>
<line x1="388.53" y1="191.9" x2="388.53" y2="281.9" stroke="#1d5a5a" stroke-width="0.8"/>
<line x1="400.37" y1="191.9" x2="400.37" y2="281.9" stroke="#1d5a5a" stroke-width="0.8"/>
<line x1="412.2" y1="191.9" x2="412.2" y2="281.9" stroke="#1d5a5a" stroke-width="0.8"/>
<line x1="424.03" y1="191.9" x2="424.03" y2="281.9" stroke="#1d5a5a" stroke-width="0.8"/>
<line x1="435.87" y1="191.9" x2="435.87" y2="281.9" stroke="#1d5a5a" stroke-width="0.8"/>
<line x1="447.7" y1="191.9" x2="447.7" y2="281.9" stroke="#1d5a5a" stroke-width="0.8"/>
<line x1="459.53" y1="191.9" x2="459.53" y2="281.9" stroke="#1d5a5a" stroke-width="0.8"/>
<line x1="471.37" y1="191.9" x2="471.37" y2="281.9" stroke="#1d5a5a" stroke-width="0.8"/>
<line x1="483.2" y1="191.9" x2="483.2" y2="281.9" stroke="#1d5a5a" stroke-width="0.8"/>
<line x1="376.7" y1="191.9" x2="483.2" y2="191.9" stroke="#1d5a5a" stroke-width="0.8"/>
<line x1="376.7" y1="214.4" x2="483.2" y2="214.4" stroke="#1d5a5a" stroke-width="0.8"/>
<line x1="376.7" y1="236.9" x2="483.2" y2="236.9" stroke="#1d5a5a" stroke-width="0.8"/>
<line x1="376.7" y1="259.4" x2="483.2" y2="259.4" stroke="#1d5a5a" stroke-width="0.8"/>
<line x1="376.7" y1="281.9" x2="483.2" y2="281.9" stroke="#1d5a5a" stroke-width="0.8"/>
<text x="379.10" y="201.30" font-size="5.1" fill="#5a5f66" fill-opacity="0.85">16</text>
<text x="379.30" y="208.20" font-size="2.8" textLength="6.5" lengthAdjust="spacingAndGlyphs" fill-opacity="0.4">n=4</text>
<text x="390.93" y="201.30" font-size="5.1" fill="#5a5f66" fill-opacity="0.85">11</text>
<text x="391.13" y="208.20" font-size="2.8" textLength="6.5" lengthAdjust="spacingAndGlyphs" fill-opacity="0.4">n=4</text>
<text x="402.77" y="201.30" font-size="5.1" fill="#5a5f66" fill-opacity="0.85">6</text>
<text x="402.97" y="208.20" font-size="2.8" textLength="6.5" lengthAdjust="spacingAndGlyphs" fill-opacity="0.4">n=4</text>
<text x="414.60" y="201.30" font-size="5.1" fill="#5a5f66" fill-opacity="0.85">9</text>
<text x="414.80" y="208.20" font-size="2.8" textLength="6.5" lengthAdjust="spacingAndGlyphs" fill-opacity="0.4">n=4</text>
<text x="426.43" y="201.30" font-size="5.1" fill="#5a5f66" fill-opacity="0.85">7</text>
<text x="426.63" y="208.20" font-size="2.8" textLength="6.5" lengthAdjust="spacingAndGlyphs" fill-opacity="0.4">n=4</text>
<text x="438.27" y="201.30" font-size="5.1" fill="#5a5f66" fill-opacity="0.85">6</text>
<text x="438.47" y="208.20" font-size="2.8" textLength="6.5" lengthAdjust="spacingAndGlyphs" fill-opacity="0.4">n=4</text>
<text x="450.10" y="201.30" font-size="5.1" fill="#5a5f66" fill-opacity="0.85">4</text>
<text x="450.30" y="208.20" font-size="2.8" textLength="6.5" lengthAdjust="spacingAndGlyphs" fill-opacity="0.4">n=4</text>
<text x="461.93" y="201.30" font-size="5.1" fill="#5a5f66" fill-opacity="0.85">15</text>
<text x="462.13" y="208.20" font-size="2.8" textLength="6.5" lengthAdjust="spacingAndGlyphs" fill-opacity="0.4">n=4</text>
<text x="473.77" y="201.30" font-size="5.1" fill="#5a5f66" fill-opacity="0.85">16</text>
<text x="473.97" y="208.20" font-size="2.8" textLength="6.5" lengthAdjust="spacingAndGlyphs" fill-opacity="0.4">n=4</text>
<text x="379.10" y="223.80" font-size="5.1" fill="#5a5f66" fill-opacity="0.85">14</text>
<text x="379.30" y="230.70" font-size="2.8" textLength="6.5" lengthAdjust="spacingAndGlyphs" fill-opacity="0.4">n=4</text>
<text x="390.93" y="223.80" font-size="5.1" fill="#5a5f66" fill-opacity="0.85">8</text>
<text x="391.13" y="230.70" font-size="2.8" textLength="6.5" lengthAdjust="spacingAndGlyphs" fill-opacity="0.4">n=4</text>
<text x="402.77" y="223.80" font-size="5.1" fill="#5a5f66" fill-opacity="0.85">12</text>
<text x="402.97" y="230.70" font-size="2.8" textLength="6.5" lengthAdjust="spacingAndGlyphs" fill-opacity="0.4">n=4</text>
<text x="414.60" y="223.80" font-size="5.1" fill="#5a5f66" fill-opacity="0.85">17</text>
<text x="414.80" y="230.70" font-size="2.8" textLength="6.5" lengthAdjust="spacingAndGlyphs" fill-opacity="0.4">n=4</text>
<text x="426.43" y="223.80" font-size="5.1" fill="#5a5f66" fill-opacity="0.85">15</text>
<text x="426.63" y="230.70" font-size="2.8" textLength="6.5" lengthAdjust="spacingAndGlyphs" fill-opacity="0.4">n=4</text>
<text x="438.27" y="223.80" font-size="5.1" fill="#5a5f66" fill-opacity="0.85">14</text>
<text x="438.47" y="230.70" font-size="2.8" textLength="6.5" lengthAdjust="spacingAndGlyphs" fill-opacity="0.4">n=4</text>
<text x="450.10" y="223.80" font-size="5.1" fill="#5a5f66" fill-opacity="0.85">16</text>
<text x="450.30" y="230.70" font-size="2.8" textLength="6.5" lengthAdjust="spacingAndGlyphs" fill-opacity="0.4">n=4</text>
<text x="461.93" y="223.80" font-size="5.1" fill="#5a5f66" fill-opacity="0.85">19</text>
<text x="462.13" y="230.70" font-size="2.8" textLength="6.5" lengthAdjust="spacingAndGlyphs" fill-opacity="0.4">n=4</text>
<text x="473.77" y="223.80" font-size="5.1" fill="#5a5f66" fill-opacity="0.85">16</text>
<text x="473.97" y="230.70" font-size="2.8" textLength="6.5" lengthAdjust="spacingAndGlyphs" fill-opacity="0.4">n=4</text>
<text x="379.10" y="246.30" font-size="5.1" fill="#5a5f66" fill-opacity="0.85">16</text>
<text x="379.30" y="253.20" font-size="2.8" textLength="6.5" lengthAdjust="spacingAndGlyphs" fill-opacity="0.4">n=4</text>
<text x="390.93" y="246.30" font-size="5.1" fill="#5a5f66" fill-opacity="0.85">9</text>
<text x="391.13" y="253.20" font-size="2.8" textLength="6.5" lengthAdjust="spacingAndGlyphs" fill-opacity="0.4">n=4</text>
<text x="402.77" y="246.30" font-size="5.1" fill="#5a5f66" fill-opacity="0.85">7</text>
<text x="402.97" y="253.20" font-size="2.8" textLength="6.5" lengthAdjust="spacingAndGlyphs" fill-opacity="0.4">n=4</text>
<text x="414.60" y="246.30" font-size="5.1" fill="#5a5f66" fill-opacity="0.85">8</text>
<text x="414.80" y="253.20" font-size="2.8" textLength="6.5" lengthAdjust="spacingAndGlyphs" fill-opacity="0.4">n=4</text>
<text x="426.43" y="246.30" font-size="5.1" fill="#5a5f66" fill-opacity="0.85">10</text>
<text x="426.63" y="253.20" font-size="2.8" textLength="6.5" lengthAdjust="spacingAndGlyphs" fill-opacity="0.4">n=4</text>
<text x="438.27" y="246.30" font-size="5.1" fill="#5a5f66" fill-opacity="0.85">10</text>
<text x="438.47" y="253.20" font-size="2.8" textLength="6.5" lengthAdjust="spacingAndGlyphs" fill-opacity="0.4">n=4</text>
<text x="450.10" y="246.30" font-size="5.1" fill="#5a5f66" fill-opacity="0.85">12</text>
<text x="450.30" y="253.20" font-size="2.8" textLength="6.5" lengthAdjust="spacingAndGlyphs" fill-opacity="0.4">n=4</text>
<text x="461.93" y="246.30" font-size="5.1" fill="#5a5f66" fill-opacity="0.85">19</text>
<text x="462.13" y="253.20" font-size="2.8" textLength="6.5" lengthAdjust="spacingAndGlyphs" fill-opacity="0.4">n=4</text>
<text x="473.77" y="246.30" font-size="5.1" fill="#5a5f66" fill-opacity="0.85">11</text>
<text x="473.97" y="253.20" font-size="2.8" textLength="6.5" lengthAdjust="spacingAndGlyphs" fill-opacity="0.4">n=4</text>
<text x="379.10" y="268.80" font-size="5.1" fill="#5a5f66" fill-opacity="0.85">7</text>
<text x="379.30" y="275.70" font-size="2.8" textLength="6.5" lengthAdjust="spacingAndGlyphs" fill-opacity="0.4">n=4</text>
<text x="390.93" y="268.80" font-size="5.1" fill="#5a5f66" fill-opacity="0.85">4</text>
<text x="391.13" y="275.70" font-size="2.8" textLength="6.5" lengthAdjust="spacingAndGlyphs" fill-opacity="0.4">n=4</text>
<text x="402.77" y="268.80" font-size="5.1" fill="#5a5f66" fill-opacity="0.85">4</text>
<text x="402.97" y="275.70" font-size="2.8" textLength="6.5" lengthAdjust="spacingAndGlyphs" fill-opacity="0.4">n=4</text>
<text x="414.60" y="268.80" font-size="5.1" fill="#5a5f66" fill-opacity="0.85">7</text>
<text x="414.80" y="275.70" font-size="2.8" textLength="6.5" lengthAdjust="spacingAndGlyphs" fill-opacity="0.4">n=4</text>
<text x="426.43" y="268.80" font-size="5.1" fill="#5a5f66" fill-opacity="0.85">6</text>
<text x="426.63" y="275.70" font-size="2.8" textLength="6.5" lengthAdjust="spacingAndGlyphs" fill-opacity="0.4">n=4</text>
<text x="438.27" y="268.80" font-size="5.1" fill="#5a5f66" fill-opacity="0.85">6</text>
<text x="438.47" y="275.70" font-size="2.8" textLength="6.5" lengthAdjust="spacingAndGlyphs" fill-opacity="0.4">n=4</text>
<text x="450.10" y="268.80" font-size="5.1" fill="#5a5f66" fill-opacity="0.85">5</text>
<text x="450.30" y="275.70" font-size="2.8" textLength="6.5" lengthAdjust="spacingAndGlyphs" fill-opacity="0.4">n=4</text>
<text x="461.93" y="268.80" font-size="5.1" fill="#5a5f66" fill-opacity="0.85">15</text>
<text x="462.13" y="275.70" font-size="2.8" textLength="6.5" lengthAdjust="spacingAndGlyphs" fill-opacity="0.4">n=4</text>
<text x="473.77" y="268.80" font-size="5.1" fill="#5a5f66" fill-opacity="0.85">17</text>
<text x="473.97" y="275.70" font-size="2.8" textLength="6.5" lengthAdjust="spacingAndGlyphs" fill-opacity="0.4">n=4</text>
<text x="375.70" y="185.50" font-size="6.6" font-weight="bold" text-anchor="end" fill="#333" textLength="16" lengthAdjust="spacingAndGlyphs"><tspan font-style="italic">N</tspan> = 4</text>
<text x="428.05" y="179.90" font-size="6.4" text-anchor="middle" fill="#111" textLength="56" lengthAdjust="spacingAndGlyphs">Ulixertinib (nmol/L)</text>
<text x="382.62" y="189.30" font-size="5.1" text-anchor="middle" fill="#333">0.46</text>
<text x="394.45" y="189.30" font-size="5.1" text-anchor="middle" fill="#333">1.37</text>
<text x="406.28" y="189.30" font-size="5.1" text-anchor="middle" fill="#333">4.1</text>
<text x="418.12" y="189.30" font-size="5.1" text-anchor="middle" fill="#333">12.3</text>
<text x="429.95" y="189.30" font-size="5.1" text-anchor="middle" fill="#333">37</text>
<text x="441.78" y="189.30" font-size="5.1" text-anchor="middle" fill="#333">111.1</text>
<text x="453.62" y="189.30" font-size="5.1" text-anchor="middle" fill="#333">333.3</text>
<text x="465.45" y="189.30" font-size="5.1" text-anchor="middle" fill="#333">1000</text>
<text x="477.28" y="189.30" font-size="5.1" text-anchor="middle" fill="#333">3000</text>
<text x="373.70" y="204.95" font-size="5.2" text-anchor="end" fill="#333">7.4</text>
<text x="373.70" y="227.45" font-size="5.2" text-anchor="end" fill="#333">22.2</text>
<text x="373.70" y="249.95" font-size="5.2" text-anchor="end" fill="#333">66.7</text>
<text x="373.70" y="272.45" font-size="5.2" text-anchor="end" fill="#333">200</text>
<text transform="translate(359.90,236.90) rotate(-90)" font-size="6.3" text-anchor="middle" fill="#222" textLength="62" lengthAdjust="spacingAndGlyphs">Selpercatinib (nmol/L)</text>
<defs><linearGradient id="jet376191" x1="0" y1="0" x2="0" y2="1"><stop offset="0.0000" stop-color="rgb(0,0,127)"/><stop offset="0.0625" stop-color="rgb(0,0,191)"/><stop offset="0.1250" stop-color="rgb(0,0,255)"/><stop offset="0.1875" stop-color="rgb(0,63,255)"/><stop offset="0.2500" stop-color="rgb(0,127,255)"/><stop offset="0.3125" stop-color="rgb(0,191,255)"/><stop offset="0.3750" stop-color="rgb(0,255,255)"/><stop offset="0.4375" stop-color="rgb(63,255,191)"/><stop offset="0.5000" stop-color="rgb(127,255,127)"/><stop offset="0.5625" stop-color="rgb(191,255,63)"/><stop offset="0.6250" stop-color="rgb(255,255,0)"/><stop offset="0.6875" stop-color="rgb(255,191,0)"/><stop offset="0.7500" stop-color="rgb(255,127,0)"/><stop offset="0.8125" stop-color="rgb(255,63,0)"/><stop offset="0.8750" stop-color="rgb(255,0,0)"/><stop offset="0.9375" stop-color="rgb(191,0,0)"/><stop offset="1.0000" stop-color="rgb(127,0,0)"/></linearGradient></defs>
<rect x="488.3" y="192.70000000000002" width="7.699999999999989" height="89.2" fill="url(#jet376191)"/>
<text transform="translate(502.80,214.40) rotate(-90)" font-size="5.0" text-anchor="middle" fill="#333" textLength="20" lengthAdjust="spacingAndGlyphs">Synergy</text>
<text transform="translate(502.80,257.20) rotate(-90)" font-size="5.0" text-anchor="middle" fill="#333" textLength="29" lengthAdjust="spacingAndGlyphs">Antagonism</text>
<text x="397.00" y="297.00" font-size="7.8" fill="#111" textLength="89" lengthAdjust="spacingAndGlyphs">Significant points (<tspan font-style="italic">P</tspan> &lt; 0.05):</text>
<text x="397.00" y="306.50" font-size="7.8" fill="#111" textLength="48.5" lengthAdjust="spacingAndGlyphs">Synergy: 30/36</text>
<text x="397.00" y="315.80" font-size="7.8" fill="#111" textLength="57" lengthAdjust="spacingAndGlyphs">Antagonism: 0/36</text>
<rect x="21.90" y="531.30" width="11.83" height="22.68" fill="#80f080"/>
<rect x="33.73" y="531.30" width="11.83" height="22.68" fill="#80f080"/>
<rect x="45.57" y="531.30" width="11.83" height="22.68" fill="#80f080"/>
<rect x="57.40" y="531.30" width="11.83" height="22.68" fill="#80f080"/>
<rect x="69.23" y="531.30" width="11.83" height="22.68" fill="#80f080"/>
<rect x="81.07" y="531.30" width="11.83" height="22.68" fill="#f8f000"/>
<rect x="92.90" y="531.30" width="11.83" height="22.68" fill="#d0f040"/>
<rect x="104.73" y="531.30" width="11.83" height="22.68" fill="#80f080"/>
<rect x="116.57" y="531.30" width="11.83" height="22.68" fill="#80f080"/>
<rect x="21.90" y="553.97" width="11.83" height="22.68" fill="#80f080"/>
<rect x="33.73" y="553.97" width="11.83" height="22.68" fill="#80f080"/>
<rect x="45.57" y="553.97" width="11.83" height="22.68" fill="#80f080"/>
<rect x="57.40" y="553.97" width="11.83" height="22.68" fill="#80f080"/>
<rect x="69.23" y="553.97" width="11.83" height="22.68" fill="#80f080"/>
<rect x="81.07" y="553.97" width="11.83" height="22.68" fill="#80f080"/>
<rect x="92.90" y="553.97" width="11.83" height="22.68" fill="#d0f040"/>
<rect x="104.73" y="553.97" width="11.83" height="22.68" fill="#60f0b0"/>
<rect x="116.57" y="553.97" width="11.83" height="22.68" fill="#80f080"/>
<rect x="21.90" y="576.65" width="11.83" height="22.68" fill="#80f080"/>
<rect x="33.73" y="576.65" width="11.83" height="22.68" fill="#80f080"/>
<rect x="45.57" y="576.65" width="11.83" height="22.68" fill="#80f080"/>
<rect x="57.40" y="576.65" width="11.83" height="22.68" fill="#80f080"/>
<rect x="69.23" y="576.65" width="11.83" height="22.68" fill="#80f080"/>
<rect x="81.07" y="576.65" width="11.83" height="22.68" fill="#80f080"/>
<rect x="92.90" y="576.65" width="11.83" height="22.68" fill="#80f080"/>
<rect x="104.73" y="576.65" width="11.83" height="22.68" fill="#80f080"/>
<rect x="116.57" y="576.65" width="11.83" height="22.68" fill="#80f080"/>
<rect x="21.90" y="599.32" width="11.83" height="22.68" fill="#30f0d8"/>
<rect x="33.73" y="599.32" width="11.83" height="22.68" fill="#10d0f8"/>
<rect x="45.57" y="599.32" width="11.83" height="22.68" fill="#30f0e8"/>
<rect x="57.40" y="599.32" width="11.83" height="22.68" fill="#80f080"/>
<rect x="69.23" y="599.32" width="11.83" height="22.68" fill="#80f080"/>
<rect x="81.07" y="599.32" width="11.83" height="22.68" fill="#80f080"/>
<rect x="92.90" y="599.32" width="11.83" height="22.68" fill="#80f080"/>
<rect x="104.73" y="599.32" width="11.83" height="22.68" fill="#80f080"/>
<rect x="116.57" y="599.32" width="11.83" height="22.68" fill="#80f080"/>
<line x1="21.9" y1="531.3" x2="21.9" y2="622.0" stroke="#1d5a1d" stroke-width="0.8"/>
<line x1="33.73" y1="531.3" x2="33.73" y2="622.0" stroke="#1d5a1d" stroke-width="0.8"/>
<line x1="45.57" y1="531.3" x2="45.57" y2="622.0" stroke="#1d5a1d" stroke-width="0.8"/>
<line x1="57.4" y1="531.3" x2="57.4" y2="622.0" stroke="#1d5a1d" stroke-width="0.8"/>
<line x1="69.23" y1="531.3" x2="69.23" y2="622.0" stroke="#1d5a1d" stroke-width="0.8"/>
<line x1="81.07" y1="531.3" x2="81.07" y2="622.0" stroke="#1d5a1d" stroke-width="0.8"/>
<line x1="92.9" y1="531.3" x2="92.9" y2="622.0" stroke="#1d5a1d" stroke-width="0.8"/>
<line x1="104.73" y1="531.3" x2="104.73" y2="622.0" stroke="#1d5a1d" stroke-width="0.8"/>
<line x1="116.57" y1="531.3" x2="116.57" y2="622.0" stroke="#1d5a1d" stroke-width="0.8"/>
<line x1="128.4" y1="531.3" x2="128.4" y2="622.0" stroke="#1d5a1d" stroke-width="0.8"/>
<line x1="21.9" y1="531.3" x2="128.4" y2="531.3" stroke="#1d5a1d" stroke-width="0.8"/>
<line x1="21.9" y1="553.97" x2="128.4" y2="553.97" stroke="#1d5a1d" stroke-width="0.8"/>
<line x1="21.9" y1="576.65" x2="128.4" y2="576.65" stroke="#1d5a1d" stroke-width="0.8"/>
<line x1="21.9" y1="599.32" x2="128.4" y2="599.32" stroke="#1d5a1d" stroke-width="0.8"/>
<line x1="21.9" y1="622.0" x2="128.4" y2="622.0" stroke="#1d5a1d" stroke-width="0.8"/>
<text x="24.30" y="540.70" font-size="5.1" fill="#5a5f66" fill-opacity="0.85">2</text>
<text x="24.50" y="547.60" font-size="2.8" textLength="6.5" lengthAdjust="spacingAndGlyphs" fill-opacity="0.4">n=4</text>
<text x="36.13" y="540.70" font-size="5.1" fill="#5a5f66" fill-opacity="0.85">7</text>
<text x="36.33" y="547.60" font-size="2.8" textLength="6.5" lengthAdjust="spacingAndGlyphs" fill-opacity="0.4">n=4</text>
<text x="47.97" y="540.70" font-size="5.1" fill="#5a5f66" fill-opacity="0.85">5</text>
<text x="48.17" y="547.60" font-size="2.8" textLength="6.5" lengthAdjust="spacingAndGlyphs" fill-opacity="0.4">n=4</text>
<text x="59.80" y="540.70" font-size="5.1" fill="#5a5f66" fill-opacity="0.85">-2</text>
<text x="60.00" y="547.60" font-size="2.8" textLength="6.5" lengthAdjust="spacingAndGlyphs" fill-opacity="0.4">n=4</text>
<text x="71.63" y="540.70" font-size="5.1" fill="#5a5f66" fill-opacity="0.85">-10</text>
<text x="71.83" y="547.60" font-size="2.8" textLength="6.5" lengthAdjust="spacingAndGlyphs" fill-opacity="0.4">n=4</text>
<text x="83.47" y="540.70" font-size="5.1" fill="#5a5f66" fill-opacity="0.85">-12</text>
<text x="83.67" y="547.60" font-size="2.8" textLength="6.5" lengthAdjust="spacingAndGlyphs" fill-opacity="0.4">n=4</text>
<text x="95.30" y="540.70" font-size="5.1" fill="#5a5f66" fill-opacity="0.85">-7</text>
<text x="95.50" y="547.60" font-size="2.8" textLength="6.5" lengthAdjust="spacingAndGlyphs" fill-opacity="0.4">n=4</text>
<text x="107.13" y="540.70" font-size="5.1" fill="#5a5f66" fill-opacity="0.85">2</text>
<text x="107.33" y="547.60" font-size="2.8" textLength="6.5" lengthAdjust="spacingAndGlyphs" fill-opacity="0.4">n=4</text>
<text x="118.97" y="540.70" font-size="5.1" fill="#5a5f66" fill-opacity="0.85">1</text>
<text x="119.17" y="547.60" font-size="2.8" textLength="6.5" lengthAdjust="spacingAndGlyphs" fill-opacity="0.4">n=4</text>
<text x="24.30" y="563.37" font-size="5.1" fill="#5a5f66" fill-opacity="0.85">7</text>
<text x="24.50" y="570.27" font-size="2.8" textLength="6.5" lengthAdjust="spacingAndGlyphs" fill-opacity="0.4">n=4</text>
<text x="36.13" y="563.37" font-size="5.1" fill="#5a5f66" fill-opacity="0.85">10</text>
<text x="36.33" y="570.27" font-size="2.8" textLength="6.5" lengthAdjust="spacingAndGlyphs" fill-opacity="0.4">n=4</text>
<text x="47.97" y="563.37" font-size="5.1" fill="#5a5f66" fill-opacity="0.85">6</text>
<text x="48.17" y="570.27" font-size="2.8" textLength="6.5" lengthAdjust="spacingAndGlyphs" fill-opacity="0.4">n=4</text>
<text x="59.80" y="563.37" font-size="5.1" fill="#5a5f66" fill-opacity="0.85">2</text>
<text x="60.00" y="570.27" font-size="2.8" textLength="6.5" lengthAdjust="spacingAndGlyphs" fill-opacity="0.4">n=4</text>
<text x="71.63" y="563.37" font-size="5.1" fill="#5a5f66" fill-opacity="0.85">1</text>
<text x="71.83" y="570.27" font-size="2.8" textLength="6.5" lengthAdjust="spacingAndGlyphs" fill-opacity="0.4">n=4</text>
<text x="83.47" y="563.37" font-size="5.1" fill="#5a5f66" fill-opacity="0.85">-3</text>
<text x="83.67" y="570.27" font-size="2.8" textLength="6.5" lengthAdjust="spacingAndGlyphs" fill-opacity="0.4">n=4</text>
<text x="95.30" y="563.37" font-size="5.1" fill="#5a5f66" fill-opacity="0.85">-6</text>
<text x="95.50" y="570.27" font-size="2.8" textLength="6.5" lengthAdjust="spacingAndGlyphs" fill-opacity="0.4">n=4</text>
<text x="107.13" y="563.37" font-size="5.1" fill="#5a5f66" fill-opacity="0.85">4</text>
<text x="107.33" y="570.27" font-size="2.8" textLength="6.5" lengthAdjust="spacingAndGlyphs" fill-opacity="0.4">n=4</text>
<text x="118.97" y="563.37" font-size="5.1" fill="#5a5f66" fill-opacity="0.85">3</text>
<text x="119.17" y="570.27" font-size="2.8" textLength="6.5" lengthAdjust="spacingAndGlyphs" fill-opacity="0.4">n=4</text>
<text x="24.30" y="586.05" font-size="5.1" fill="#5a5f66" fill-opacity="0.85">10</text>
<text x="24.50" y="592.95" font-size="2.8" textLength="6.5" lengthAdjust="spacingAndGlyphs" fill-opacity="0.4">n=4</text>
<text x="36.13" y="586.05" font-size="5.1" fill="#5a5f66" fill-opacity="0.85">12</text>
<text x="36.33" y="592.95" font-size="2.8" textLength="6.5" lengthAdjust="spacingAndGlyphs" fill-opacity="0.4">n=4</text>
<text x="47.97" y="586.05" font-size="5.1" fill="#5a5f66" fill-opacity="0.85">10</text>
<text x="48.17" y="592.95" font-size="2.8" textLength="6.5" lengthAdjust="spacingAndGlyphs" fill-opacity="0.4">n=4</text>
<text x="59.80" y="586.05" font-size="5.1" fill="#5a5f66" fill-opacity="0.85">3</text>
<text x="60.00" y="592.95" font-size="2.8" textLength="6.5" lengthAdjust="spacingAndGlyphs" fill-opacity="0.4">n=4</text>
<text x="71.63" y="586.05" font-size="5.1" fill="#5a5f66" fill-opacity="0.85">-1</text>
<text x="71.83" y="592.95" font-size="2.8" textLength="6.5" lengthAdjust="spacingAndGlyphs" fill-opacity="0.4">n=4</text>
<text x="83.47" y="586.05" font-size="5.1" fill="#5a5f66" fill-opacity="0.85">-8</text>
<text x="83.67" y="592.95" font-size="2.8" textLength="6.5" lengthAdjust="spacingAndGlyphs" fill-opacity="0.4">n=4</text>
<text x="95.30" y="586.05" font-size="5.1" fill="#5a5f66" fill-opacity="0.85">-2</text>
<text x="95.50" y="592.95" font-size="2.8" textLength="6.5" lengthAdjust="spacingAndGlyphs" fill-opacity="0.4">n=4</text>
<text x="107.13" y="586.05" font-size="5.1" fill="#5a5f66" fill-opacity="0.85">2</text>
<text x="107.33" y="592.95" font-size="2.8" textLength="6.5" lengthAdjust="spacingAndGlyphs" fill-opacity="0.4">n=4</text>
<text x="118.97" y="586.05" font-size="5.1" fill="#5a5f66" fill-opacity="0.85">3</text>
<text x="119.17" y="592.95" font-size="2.8" textLength="6.5" lengthAdjust="spacingAndGlyphs" fill-opacity="0.4">n=4</text>
<text x="24.30" y="608.72" font-size="5.1" fill="#5a5f66" fill-opacity="0.85">9</text>
<text x="24.50" y="615.62" font-size="2.8" textLength="6.5" lengthAdjust="spacingAndGlyphs" fill-opacity="0.4">n=4</text>
<text x="36.13" y="608.72" font-size="5.1" fill="#5a5f66" fill-opacity="0.85">16</text>
<text x="36.33" y="615.62" font-size="2.8" textLength="6.5" lengthAdjust="spacingAndGlyphs" fill-opacity="0.4">n=4</text>
<text x="47.97" y="608.72" font-size="5.1" fill="#5a5f66" fill-opacity="0.85">11</text>
<text x="48.17" y="615.62" font-size="2.8" textLength="6.5" lengthAdjust="spacingAndGlyphs" fill-opacity="0.4">n=4</text>
<text x="59.80" y="608.72" font-size="5.1" fill="#5a5f66" fill-opacity="0.85">-2</text>
<text x="60.00" y="615.62" font-size="2.8" textLength="6.5" lengthAdjust="spacingAndGlyphs" fill-opacity="0.4">n=4</text>
<text x="71.63" y="608.72" font-size="5.1" fill="#5a5f66" fill-opacity="0.85">-4</text>
<text x="71.83" y="615.62" font-size="2.8" textLength="6.5" lengthAdjust="spacingAndGlyphs" fill-opacity="0.4">n=4</text>
<text x="83.47" y="608.72" font-size="5.1" fill="#5a5f66" fill-opacity="0.85">-3</text>
<text x="83.67" y="615.62" font-size="2.8" textLength="6.5" lengthAdjust="spacingAndGlyphs" fill-opacity="0.4">n=4</text>
<text x="95.30" y="608.72" font-size="5.1" fill="#5a5f66" fill-opacity="0.85">-2</text>
<text x="95.50" y="615.62" font-size="2.8" textLength="6.5" lengthAdjust="spacingAndGlyphs" fill-opacity="0.4">n=4</text>
<text x="107.13" y="608.72" font-size="5.1" fill="#5a5f66" fill-opacity="0.85">1</text>
<text x="107.33" y="615.62" font-size="2.8" textLength="6.5" lengthAdjust="spacingAndGlyphs" fill-opacity="0.4">n=4</text>
<text x="118.97" y="608.72" font-size="5.1" fill="#5a5f66" fill-opacity="0.85">2</text>
<text x="119.17" y="615.62" font-size="2.8" textLength="6.5" lengthAdjust="spacingAndGlyphs" fill-opacity="0.4">n=4</text>
<text x="20.90" y="524.90" font-size="6.6" font-weight="bold" text-anchor="end" fill="#333" textLength="16" lengthAdjust="spacingAndGlyphs"><tspan font-style="italic">N</tspan> = 4</text>
<text x="73.80" y="519.30" font-size="6.4" text-anchor="middle" fill="#111" textLength="63.4" lengthAdjust="spacingAndGlyphs">SCH772984 (nmol/L)</text>
<text x="27.82" y="528.70" font-size="5.1" text-anchor="middle" fill="#333">0.46</text>
<text x="39.65" y="528.70" font-size="5.1" text-anchor="middle" fill="#333">1.37</text>
<text x="51.48" y="528.70" font-size="5.1" text-anchor="middle" fill="#333">4.1</text>
<text x="63.32" y="528.70" font-size="5.1" text-anchor="middle" fill="#333">12.3</text>
<text x="75.15" y="528.70" font-size="5.1" text-anchor="middle" fill="#333">37</text>
<text x="86.98" y="528.70" font-size="5.1" text-anchor="middle" fill="#333">111.1</text>
<text x="98.82" y="528.70" font-size="5.1" text-anchor="middle" fill="#333">333.3</text>
<text x="110.65" y="528.70" font-size="5.1" text-anchor="middle" fill="#333">1000</text>
<text x="122.48" y="528.70" font-size="5.1" text-anchor="middle" fill="#333">3000</text>
<text x="18.90" y="544.44" font-size="5.2" text-anchor="end" fill="#333">7.4</text>
<text x="18.90" y="567.11" font-size="5.2" text-anchor="end" fill="#333">22.2</text>
<text x="18.90" y="589.79" font-size="5.2" text-anchor="end" fill="#333">66.7</text>
<text x="18.90" y="612.46" font-size="5.2" text-anchor="end" fill="#333">200</text>
<text transform="translate(5.10,576.65) rotate(-90)" font-size="6.3" text-anchor="middle" fill="#222" textLength="62" lengthAdjust="spacingAndGlyphs">Selpercatinib (nmol/L)</text>
<defs><linearGradient id="jet21531" x1="0" y1="0" x2="0" y2="1"><stop offset="0.0000" stop-color="rgb(0,0,127)"/><stop offset="0.0625" stop-color="rgb(0,0,191)"/><stop offset="0.1250" stop-color="rgb(0,0,255)"/><stop offset="0.1875" stop-color="rgb(0,63,255)"/><stop offset="0.2500" stop-color="rgb(0,127,255)"/><stop offset="0.3125" stop-color="rgb(0,191,255)"/><stop offset="0.3750" stop-color="rgb(0,255,255)"/><stop offset="0.4375" stop-color="rgb(63,255,191)"/><stop offset="0.5000" stop-color="rgb(127,255,127)"/><stop offset="0.5625" stop-color="rgb(191,255,63)"/><stop offset="0.6250" stop-color="rgb(255,255,0)"/><stop offset="0.6875" stop-color="rgb(255,191,0)"/><stop offset="0.7500" stop-color="rgb(255,127,0)"/><stop offset="0.8125" stop-color="rgb(255,63,0)"/><stop offset="0.8750" stop-color="rgb(255,0,0)"/><stop offset="0.9375" stop-color="rgb(191,0,0)"/><stop offset="1.0000" stop-color="rgb(127,0,0)"/></linearGradient></defs>
<rect x="132.7" y="532.0999999999999" width="7.5" height="89.9" fill="url(#jet21531)"/>
<text transform="translate(147.00,553.80) rotate(-90)" font-size="5.0" text-anchor="middle" fill="#333" textLength="20" lengthAdjust="spacingAndGlyphs">Synergy</text>
<text transform="translate(147.00,596.60) rotate(-90)" font-size="5.0" text-anchor="middle" fill="#333" textLength="29" lengthAdjust="spacingAndGlyphs">Antagonism</text>
<text x="35.50" y="638.00" font-size="7.8" fill="#111" textLength="89" lengthAdjust="spacingAndGlyphs">Significant points (<tspan font-style="italic">P</tspan> &lt; 0.05):</text>
<text x="35.50" y="647.50" font-size="7.8" fill="#111" textLength="44.0" lengthAdjust="spacingAndGlyphs">Synergy: 7/36</text>
<text x="35.50" y="656.80" font-size="7.8" fill="#111" textLength="57" lengthAdjust="spacingAndGlyphs">Antagonism: 3/36</text>
<rect x="207.90" y="531.30" width="11.83" height="22.38" fill="#10d0f8"/>
<rect x="219.73" y="531.30" width="11.83" height="22.38" fill="#10a0f8"/>
<rect x="231.57" y="531.30" width="11.83" height="22.38" fill="#10a0f8"/>
<rect x="243.40" y="531.30" width="11.83" height="22.38" fill="#1070f8"/>
<rect x="255.23" y="531.30" width="11.83" height="22.38" fill="#1058f0"/>
<rect x="267.07" y="531.30" width="11.83" height="22.38" fill="#1060f0"/>
<rect x="278.90" y="531.30" width="11.83" height="22.38" fill="#1030e8"/>
<rect x="290.73" y="531.30" width="11.83" height="22.38" fill="#20d8f8"/>
<rect x="302.57" y="531.30" width="11.83" height="22.38" fill="#50f0c0"/>
<rect x="207.90" y="553.67" width="11.83" height="22.38" fill="#10d0f8"/>
<rect x="219.73" y="553.67" width="11.83" height="22.38" fill="#1088f8"/>
<rect x="231.57" y="553.67" width="11.83" height="22.38" fill="#1090f8"/>
<rect x="243.40" y="553.67" width="11.83" height="22.38" fill="#1090f8"/>
<rect x="255.23" y="553.67" width="11.83" height="22.38" fill="#1060f0"/>
<rect x="267.07" y="553.67" width="11.83" height="22.38" fill="#1058f0"/>
<rect x="278.90" y="553.67" width="11.83" height="22.38" fill="#1048f0"/>
<rect x="290.73" y="553.67" width="11.83" height="22.38" fill="#20d0f8"/>
<rect x="302.57" y="553.67" width="11.83" height="22.38" fill="#40f0c8"/>
<rect x="207.90" y="576.05" width="11.83" height="22.38" fill="#10c8f8"/>
<rect x="219.73" y="576.05" width="11.83" height="22.38" fill="#1098f8"/>
<rect x="231.57" y="576.05" width="11.83" height="22.38" fill="#10a0f8"/>
<rect x="243.40" y="576.05" width="11.83" height="22.38" fill="#1098f8"/>
<rect x="255.23" y="576.05" width="11.83" height="22.38" fill="#1088f8"/>
<rect x="267.07" y="576.05" width="11.83" height="22.38" fill="#1080f8"/>
<rect x="278.90" y="576.05" width="11.83" height="22.38" fill="#1058f0"/>
<rect x="290.73" y="576.05" width="11.83" height="22.38" fill="#10c8f8"/>
<rect x="302.57" y="576.05" width="11.83" height="22.38" fill="#40e8c8"/>
<rect x="207.90" y="598.42" width="11.83" height="22.38" fill="#20e0f0"/>
<rect x="219.73" y="598.42" width="11.83" height="22.38" fill="#10c0f8"/>
<rect x="231.57" y="598.42" width="11.83" height="22.38" fill="#10a8f8"/>
<rect x="243.40" y="598.42" width="11.83" height="22.38" fill="#10a0f8"/>
<rect x="255.23" y="598.42" width="11.83" height="22.38" fill="#1090f8"/>
<rect x="267.07" y="598.42" width="11.83" height="22.38" fill="#1090f8"/>
<rect x="278.90" y="598.42" width="11.83" height="22.38" fill="#1068f0"/>
<rect x="290.73" y="598.42" width="11.83" height="22.38" fill="#10c0f8"/>
<rect x="302.57" y="598.42" width="11.83" height="22.38" fill="#40e8c8"/>
<line x1="207.9" y1="531.3" x2="207.9" y2="620.8" stroke="#143c7a" stroke-width="0.8"/>
<line x1="219.73" y1="531.3" x2="219.73" y2="620.8" stroke="#143c7a" stroke-width="0.8"/>
<line x1="231.57" y1="531.3" x2="231.57" y2="620.8" stroke="#143c7a" stroke-width="0.8"/>
<line x1="243.4" y1="531.3" x2="243.4" y2="620.8" stroke="#143c7a" stroke-width="0.8"/>
<line x1="255.23" y1="531.3" x2="255.23" y2="620.8" stroke="#143c7a" stroke-width="0.8"/>
<line x1="267.07" y1="531.3" x2="267.07" y2="620.8" stroke="#143c7a" stroke-width="0.8"/>
<line x1="278.9" y1="531.3" x2="278.9" y2="620.8" stroke="#143c7a" stroke-width="0.8"/>
<line x1="290.73" y1="531.3" x2="290.73" y2="620.8" stroke="#143c7a" stroke-width="0.8"/>
<line x1="302.57" y1="531.3" x2="302.57" y2="620.8" stroke="#143c7a" stroke-width="0.8"/>
<line x1="314.4" y1="531.3" x2="314.4" y2="620.8" stroke="#143c7a" stroke-width="0.8"/>
<line x1="207.9" y1="531.3" x2="314.4" y2="531.3" stroke="#143c7a" stroke-width="0.8"/>
<line x1="207.9" y1="553.67" x2="314.4" y2="553.67" stroke="#143c7a" stroke-width="0.8"/>
<line x1="207.9" y1="576.05" x2="314.4" y2="576.05" stroke="#143c7a" stroke-width="0.8"/>
<line x1="207.9" y1="598.42" x2="314.4" y2="598.42" stroke="#143c7a" stroke-width="0.8"/>
<line x1="207.9" y1="620.8" x2="314.4" y2="620.8" stroke="#143c7a" stroke-width="0.8"/>
<text x="210.30" y="540.70" font-size="5.1" fill="#5a5f66" fill-opacity="0.85">13</text>
<text x="210.50" y="547.60" font-size="2.8" textLength="6.5" lengthAdjust="spacingAndGlyphs" fill-opacity="0.4">n=4</text>
<text x="222.13" y="540.70" font-size="5.1" fill="#5a5f66" fill-opacity="0.85">20</text>
<text x="222.33" y="547.60" font-size="2.8" textLength="6.5" lengthAdjust="spacingAndGlyphs" fill-opacity="0.4">n=4</text>
<text x="233.97" y="540.70" font-size="5.1" fill="#5a5f66" fill-opacity="0.85">19</text>
<text x="234.17" y="547.60" font-size="2.8" textLength="6.5" lengthAdjust="spacingAndGlyphs" fill-opacity="0.4">n=4</text>
<text x="245.80" y="540.70" font-size="5.1" fill="#5a5f66" fill-opacity="0.85">23</text>
<text x="246.00" y="547.60" font-size="2.8" textLength="6.5" lengthAdjust="spacingAndGlyphs" fill-opacity="0.4">n=4</text>
<text x="257.63" y="540.70" font-size="5.1" fill="#5a5f66" fill-opacity="0.85">28</text>
<text x="257.83" y="547.60" font-size="2.8" textLength="6.5" lengthAdjust="spacingAndGlyphs" fill-opacity="0.4">n=4</text>
<text x="269.47" y="540.70" font-size="5.1" fill="#5a5f66" fill-opacity="0.85">25</text>
<text x="269.67" y="547.60" font-size="2.8" textLength="6.5" lengthAdjust="spacingAndGlyphs" fill-opacity="0.4">n=4</text>
<text x="281.30" y="540.70" font-size="5.1" fill="#5a5f66" fill-opacity="0.85">34</text>
<text x="281.50" y="547.60" font-size="2.8" textLength="6.5" lengthAdjust="spacingAndGlyphs" fill-opacity="0.4">n=4</text>
<text x="293.13" y="540.70" font-size="5.1" fill="#5a5f66" fill-opacity="0.85">14</text>
<text x="293.33" y="547.60" font-size="2.8" textLength="6.5" lengthAdjust="spacingAndGlyphs" fill-opacity="0.4">n=4</text>
<text x="304.97" y="540.70" font-size="5.1" fill="#5a5f66" fill-opacity="0.85">7</text>
<text x="305.17" y="547.60" font-size="2.8" textLength="6.5" lengthAdjust="spacingAndGlyphs" fill-opacity="0.4">n=4</text>
<text x="210.30" y="563.07" font-size="5.1" fill="#5a5f66" fill-opacity="0.85">13</text>
<text x="210.50" y="569.97" font-size="2.8" textLength="6.5" lengthAdjust="spacingAndGlyphs" fill-opacity="0.4">n=4</text>
<text x="222.13" y="563.07" font-size="5.1" fill="#5a5f66" fill-opacity="0.85">18</text>
<text x="222.33" y="569.97" font-size="2.8" textLength="6.5" lengthAdjust="spacingAndGlyphs" fill-opacity="0.4">n=4</text>
<text x="233.97" y="563.07" font-size="5.1" fill="#5a5f66" fill-opacity="0.85">19</text>
<text x="234.17" y="569.97" font-size="2.8" textLength="6.5" lengthAdjust="spacingAndGlyphs" fill-opacity="0.4">n=4</text>
<text x="245.80" y="563.07" font-size="5.1" fill="#5a5f66" fill-opacity="0.85">21</text>
<text x="246.00" y="569.97" font-size="2.8" textLength="6.5" lengthAdjust="spacingAndGlyphs" fill-opacity="0.4">n=4</text>
<text x="257.63" y="563.07" font-size="5.1" fill="#5a5f66" fill-opacity="0.85">25</text>
<text x="257.83" y="569.97" font-size="2.8" textLength="6.5" lengthAdjust="spacingAndGlyphs" fill-opacity="0.4">n=4</text>
<text x="269.47" y="563.07" font-size="5.1" fill="#5a5f66" fill-opacity="0.85">28</text>
<text x="269.67" y="569.97" font-size="2.8" textLength="6.5" lengthAdjust="spacingAndGlyphs" fill-opacity="0.4">n=4</text>
<text x="281.30" y="563.07" font-size="5.1" fill="#5a5f66" fill-opacity="0.85">30</text>
<text x="281.50" y="569.97" font-size="2.8" textLength="6.5" lengthAdjust="spacingAndGlyphs" fill-opacity="0.4">n=4</text>
<text x="293.13" y="563.07" font-size="5.1" fill="#5a5f66" fill-opacity="0.85">17</text>
<text x="293.33" y="569.97" font-size="2.8" textLength="6.5" lengthAdjust="spacingAndGlyphs" fill-opacity="0.4">n=4</text>
<text x="304.97" y="563.07" font-size="5.1" fill="#5a5f66" fill-opacity="0.85">7</text>
<text x="305.17" y="569.97" font-size="2.8" textLength="6.5" lengthAdjust="spacingAndGlyphs" fill-opacity="0.4">n=4</text>
<text x="210.30" y="585.45" font-size="5.1" fill="#5a5f66" fill-opacity="0.85">10</text>
<text x="210.50" y="592.35" font-size="2.8" textLength="6.5" lengthAdjust="spacingAndGlyphs" fill-opacity="0.4">n=4</text>
<text x="222.13" y="585.45" font-size="5.1" fill="#5a5f66" fill-opacity="0.85">20</text>
<text x="222.33" y="592.35" font-size="2.8" textLength="6.5" lengthAdjust="spacingAndGlyphs" fill-opacity="0.4">n=4</text>
<text x="233.97" y="585.45" font-size="5.1" fill="#5a5f66" fill-opacity="0.85">19</text>
<text x="234.17" y="592.35" font-size="2.8" textLength="6.5" lengthAdjust="spacingAndGlyphs" fill-opacity="0.4">n=4</text>
<text x="245.80" y="585.45" font-size="5.1" fill="#5a5f66" fill-opacity="0.85">22</text>
<text x="246.00" y="592.35" font-size="2.8" textLength="6.5" lengthAdjust="spacingAndGlyphs" fill-opacity="0.4">n=4</text>
<text x="257.63" y="585.45" font-size="5.1" fill="#5a5f66" fill-opacity="0.85">24</text>
<text x="257.83" y="592.35" font-size="2.8" textLength="6.5" lengthAdjust="spacingAndGlyphs" fill-opacity="0.4">n=4</text>
<text x="269.47" y="585.45" font-size="5.1" fill="#5a5f66" fill-opacity="0.85">23</text>
<text x="269.67" y="592.35" font-size="2.8" textLength="6.5" lengthAdjust="spacingAndGlyphs" fill-opacity="0.4">n=4</text>
<text x="281.30" y="585.45" font-size="5.1" fill="#5a5f66" fill-opacity="0.85">29</text>
<text x="281.50" y="592.35" font-size="2.8" textLength="6.5" lengthAdjust="spacingAndGlyphs" fill-opacity="0.4">n=4</text>
<text x="293.13" y="585.45" font-size="5.1" fill="#5a5f66" fill-opacity="0.85">13</text>
<text x="293.33" y="592.35" font-size="2.8" textLength="6.5" lengthAdjust="spacingAndGlyphs" fill-opacity="0.4">n=4</text>
<text x="304.97" y="585.45" font-size="5.1" fill="#5a5f66" fill-opacity="0.85">9</text>
<text x="305.17" y="592.35" font-size="2.8" textLength="6.5" lengthAdjust="spacingAndGlyphs" fill-opacity="0.4">n=4</text>
<text x="210.30" y="607.82" font-size="5.1" fill="#5a5f66" fill-opacity="0.85">9</text>
<text x="210.50" y="614.72" font-size="2.8" textLength="6.5" lengthAdjust="spacingAndGlyphs" fill-opacity="0.4">n=4</text>
<text x="222.13" y="607.82" font-size="5.1" fill="#5a5f66" fill-opacity="0.85">11</text>
<text x="222.33" y="614.72" font-size="2.8" textLength="6.5" lengthAdjust="spacingAndGlyphs" fill-opacity="0.4">n=4</text>
<text x="233.97" y="607.82" font-size="5.1" fill="#5a5f66" fill-opacity="0.85">17</text>
<text x="234.17" y="614.72" font-size="2.8" textLength="6.5" lengthAdjust="spacingAndGlyphs" fill-opacity="0.4">n=4</text>
<text x="245.80" y="607.82" font-size="5.1" fill="#5a5f66" fill-opacity="0.85">18</text>
<text x="246.00" y="614.72" font-size="2.8" textLength="6.5" lengthAdjust="spacingAndGlyphs" fill-opacity="0.4">n=4</text>
<text x="257.63" y="607.82" font-size="5.1" fill="#5a5f66" fill-opacity="0.85">20</text>
<text x="257.83" y="614.72" font-size="2.8" textLength="6.5" lengthAdjust="spacingAndGlyphs" fill-opacity="0.4">n=4</text>
<text x="269.47" y="607.82" font-size="5.1" fill="#5a5f66" fill-opacity="0.85">20</text>
<text x="269.67" y="614.72" font-size="2.8" textLength="6.5" lengthAdjust="spacingAndGlyphs" fill-opacity="0.4">n=4</text>
<text x="281.30" y="607.82" font-size="5.1" fill="#5a5f66" fill-opacity="0.85">27</text>
<text x="281.50" y="614.72" font-size="2.8" textLength="6.5" lengthAdjust="spacingAndGlyphs" fill-opacity="0.4">n=4</text>
<text x="293.13" y="607.82" font-size="5.1" fill="#5a5f66" fill-opacity="0.85">17</text>
<text x="293.33" y="614.72" font-size="2.8" textLength="6.5" lengthAdjust="spacingAndGlyphs" fill-opacity="0.4">n=4</text>
<text x="304.97" y="607.82" font-size="5.1" fill="#5a5f66" fill-opacity="0.85">9</text>
<text x="305.17" y="614.72" font-size="2.8" textLength="6.5" lengthAdjust="spacingAndGlyphs" fill-opacity="0.4">n=4</text>
<text x="206.90" y="524.90" font-size="6.6" font-weight="bold" text-anchor="end" fill="#333" textLength="16" lengthAdjust="spacingAndGlyphs"><tspan font-style="italic">N</tspan> = 4</text>
<text x="259.50" y="519.30" font-size="6.4" text-anchor="middle" fill="#111" textLength="63.4" lengthAdjust="spacingAndGlyphs">SCH772984 (nmol/L)</text>
<text x="213.82" y="528.70" font-size="5.1" text-anchor="middle" fill="#333">0.46</text>
<text x="225.65" y="528.70" font-size="5.1" text-anchor="middle" fill="#333">1.37</text>
<text x="237.48" y="528.70" font-size="5.1" text-anchor="middle" fill="#333">4.1</text>
<text x="249.32" y="528.70" font-size="5.1" text-anchor="middle" fill="#333">12.3</text>
<text x="261.15" y="528.70" font-size="5.1" text-anchor="middle" fill="#333">37</text>
<text x="272.98" y="528.70" font-size="5.1" text-anchor="middle" fill="#333">111.1</text>
<text x="284.82" y="528.70" font-size="5.1" text-anchor="middle" fill="#333">333.3</text>
<text x="296.65" y="528.70" font-size="5.1" text-anchor="middle" fill="#333">1000</text>
<text x="308.48" y="528.70" font-size="5.1" text-anchor="middle" fill="#333">3000</text>
<text x="204.90" y="544.29" font-size="5.2" text-anchor="end" fill="#333">7.4</text>
<text x="204.90" y="566.66" font-size="5.2" text-anchor="end" fill="#333">22.2</text>
<text x="204.90" y="589.04" font-size="5.2" text-anchor="end" fill="#333">66.7</text>
<text x="204.90" y="611.41" font-size="5.2" text-anchor="end" fill="#333">200</text>
<text transform="translate(191.10,576.05) rotate(-90)" font-size="6.3" text-anchor="middle" fill="#222" textLength="62" lengthAdjust="spacingAndGlyphs">Selpercatinib (nmol/L)</text>
<defs><linearGradient id="jet207531" x1="0" y1="0" x2="0" y2="1"><stop offset="0.0000" stop-color="rgb(0,0,127)"/><stop offset="0.0625" stop-color="rgb(0,0,191)"/><stop offset="0.1250" stop-color="rgb(0,0,255)"/><stop offset="0.1875" stop-color="rgb(0,63,255)"/><stop offset="0.2500" stop-color="rgb(0,127,255)"/><stop offset="0.3125" stop-color="rgb(0,191,255)"/><stop offset="0.3750" stop-color="rgb(0,255,255)"/><stop offset="0.4375" stop-color="rgb(63,255,191)"/><stop offset="0.5000" stop-color="rgb(127,255,127)"/><stop offset="0.5625" stop-color="rgb(191,255,63)"/><stop offset="0.6250" stop-color="rgb(255,255,0)"/><stop offset="0.6875" stop-color="rgb(255,191,0)"/><stop offset="0.7500" stop-color="rgb(255,127,0)"/><stop offset="0.8125" stop-color="rgb(255,63,0)"/><stop offset="0.8750" stop-color="rgb(255,0,0)"/><stop offset="0.9375" stop-color="rgb(191,0,0)"/><stop offset="1.0000" stop-color="rgb(127,0,0)"/></linearGradient></defs>
<rect x="318.6" y="532.0999999999999" width="7.2999999999999545" height="88.7" fill="url(#jet207531)"/>
<text transform="translate(332.70,553.80) rotate(-90)" font-size="5.0" text-anchor="middle" fill="#333" textLength="20" lengthAdjust="spacingAndGlyphs">Synergy</text>
<text transform="translate(332.70,596.60) rotate(-90)" font-size="5.0" text-anchor="middle" fill="#333" textLength="29" lengthAdjust="spacingAndGlyphs">Antagonism</text>
<text x="222.00" y="639.20" font-size="7.8" fill="#111" textLength="89" lengthAdjust="spacingAndGlyphs">Significant points (<tspan font-style="italic">P</tspan> &lt; 0.05):</text>
<text x="222.00" y="648.80" font-size="7.8" fill="#111" textLength="48.5" lengthAdjust="spacingAndGlyphs">Synergy: 36/36</text>
<text x="222.00" y="658.20" font-size="7.8" fill="#111" textLength="57" lengthAdjust="spacingAndGlyphs">Antagonism: 0/36</text>
<rect x="381.30" y="531.30" width="11.83" height="22.40" fill="#80f080"/>
<rect x="393.13" y="531.30" width="11.83" height="22.40" fill="#80f080"/>
<rect x="404.97" y="531.30" width="11.83" height="22.40" fill="#80f080"/>
<rect x="416.80" y="531.30" width="11.83" height="22.40" fill="#88f080"/>
<rect x="428.63" y="531.30" width="11.83" height="22.40" fill="#20d8f8"/>
<rect x="440.47" y="531.30" width="11.83" height="22.40" fill="#20e0f8"/>
<rect x="452.30" y="531.30" width="11.83" height="22.40" fill="#10b0f8"/>
<rect x="464.13" y="531.30" width="11.83" height="22.40" fill="#1098f8"/>
<rect x="475.97" y="531.30" width="11.83" height="22.40" fill="#20d8f8"/>
<rect x="381.30" y="553.70" width="11.83" height="22.40" fill="#30e8e8"/>
<rect x="393.13" y="553.70" width="11.83" height="22.40" fill="#30e8e8"/>
<rect x="404.97" y="553.70" width="11.83" height="22.40" fill="#30e8e8"/>
<rect x="416.80" y="553.70" width="11.83" height="22.40" fill="#30e8e8"/>
<rect x="428.63" y="553.70" width="11.83" height="22.40" fill="#20d8f8"/>
<rect x="440.47" y="553.70" width="11.83" height="22.40" fill="#20d8f8"/>
<rect x="452.30" y="553.70" width="11.83" height="22.40" fill="#20e0f8"/>
<rect x="464.13" y="553.70" width="11.83" height="22.40" fill="#10a0f8"/>
<rect x="475.97" y="553.70" width="11.83" height="22.40" fill="#20d8f8"/>
<rect x="381.30" y="576.10" width="11.83" height="22.40" fill="#80f080"/>
<rect x="393.13" y="576.10" width="11.83" height="22.40" fill="#80f080"/>
<rect x="404.97" y="576.10" width="11.83" height="22.40" fill="#80f080"/>
<rect x="416.80" y="576.10" width="11.83" height="22.40" fill="#30e8f0"/>
<rect x="428.63" y="576.10" width="11.83" height="22.40" fill="#40f0d8"/>
<rect x="440.47" y="576.10" width="11.83" height="22.40" fill="#50f8c0"/>
<rect x="452.30" y="576.10" width="11.83" height="22.40" fill="#50f0c8"/>
<rect x="464.13" y="576.10" width="11.83" height="22.40" fill="#10b8f8"/>
<rect x="475.97" y="576.10" width="11.83" height="22.40" fill="#20d8f8"/>
<rect x="381.30" y="598.50" width="11.83" height="22.40" fill="#80f080"/>
<rect x="393.13" y="598.50" width="11.83" height="22.40" fill="#80f080"/>
<rect x="404.97" y="598.50" width="11.83" height="22.40" fill="#80f080"/>
<rect x="416.80" y="598.50" width="11.83" height="22.40" fill="#80f080"/>
<rect x="428.63" y="598.50" width="11.83" height="22.40" fill="#40f0d0"/>
<rect x="440.47" y="598.50" width="11.83" height="22.40" fill="#40f0d0"/>
<rect x="452.30" y="598.50" width="11.83" height="22.40" fill="#50f8c0"/>
<rect x="464.13" y="598.50" width="11.83" height="22.40" fill="#10d0f8"/>
<rect x="475.97" y="598.50" width="11.83" height="22.40" fill="#30e0f0"/>
<line x1="381.3" y1="531.3" x2="381.3" y2="620.9" stroke="#1d5a5a" stroke-width="0.8"/>
<line x1="393.13" y1="531.3" x2="393.13" y2="620.9" stroke="#1d5a5a" stroke-width="0.8"/>
<line x1="404.97" y1="531.3" x2="404.97" y2="620.9" stroke="#1d5a5a" stroke-width="0.8"/>
<line x1="416.8" y1="531.3" x2="416.8" y2="620.9" stroke="#1d5a5a" stroke-width="0.8"/>
<line x1="428.63" y1="531.3" x2="428.63" y2="620.9" stroke="#1d5a5a" stroke-width="0.8"/>
<line x1="440.47" y1="531.3" x2="440.47" y2="620.9" stroke="#1d5a5a" stroke-width="0.8"/>
<line x1="452.3" y1="531.3" x2="452.3" y2="620.9" stroke="#1d5a5a" stroke-width="0.8"/>
<line x1="464.13" y1="531.3" x2="464.13" y2="620.9" stroke="#1d5a5a" stroke-width="0.8"/>
<line x1="475.97" y1="531.3" x2="475.97" y2="620.9" stroke="#1d5a5a" stroke-width="0.8"/>
<line x1="487.8" y1="531.3" x2="487.8" y2="620.9" stroke="#1d5a5a" stroke-width="0.8"/>
<line x1="381.3" y1="531.3" x2="487.8" y2="531.3" stroke="#1d5a5a" stroke-width="0.8"/>
<line x1="381.3" y1="553.7" x2="487.8" y2="553.7" stroke="#1d5a5a" stroke-width="0.8"/>
<line x1="381.3" y1="576.1" x2="487.8" y2="576.1" stroke="#1d5a5a" stroke-width="0.8"/>
<line x1="381.3" y1="598.5" x2="487.8" y2="598.5" stroke="#1d5a5a" stroke-width="0.8"/>
<line x1="381.3" y1="620.9" x2="487.8" y2="620.9" stroke="#1d5a5a" stroke-width="0.8"/>
<text x="383.70" y="540.70" font-size="5.1" fill="#5a5f66" fill-opacity="0.85">9</text>
<text x="383.90" y="547.60" font-size="2.8" textLength="6.5" lengthAdjust="spacingAndGlyphs" fill-opacity="0.4">n=4</text>
<text x="395.53" y="540.70" font-size="5.1" fill="#5a5f66" fill-opacity="0.85">9</text>
<text x="395.73" y="547.60" font-size="2.8" textLength="6.5" lengthAdjust="spacingAndGlyphs" fill-opacity="0.4">n=4</text>
<text x="407.37" y="540.70" font-size="5.1" fill="#5a5f66" fill-opacity="0.85">7</text>
<text x="407.57" y="547.60" font-size="2.8" textLength="6.5" lengthAdjust="spacingAndGlyphs" fill-opacity="0.4">n=4</text>
<text x="419.20" y="540.70" font-size="5.1" fill="#5a5f66" fill-opacity="0.85">10</text>
<text x="419.40" y="547.60" font-size="2.8" textLength="6.5" lengthAdjust="spacingAndGlyphs" fill-opacity="0.4">n=4</text>
<text x="431.03" y="540.70" font-size="5.1" fill="#5a5f66" fill-opacity="0.85">14</text>
<text x="431.23" y="547.60" font-size="2.8" textLength="6.5" lengthAdjust="spacingAndGlyphs" fill-opacity="0.4">n=4</text>
<text x="442.87" y="540.70" font-size="5.1" fill="#5a5f66" fill-opacity="0.85">13</text>
<text x="443.07" y="547.60" font-size="2.8" textLength="6.5" lengthAdjust="spacingAndGlyphs" fill-opacity="0.4">n=4</text>
<text x="454.70" y="540.70" font-size="5.1" fill="#5a5f66" fill-opacity="0.85">18</text>
<text x="454.90" y="547.60" font-size="2.8" textLength="6.5" lengthAdjust="spacingAndGlyphs" fill-opacity="0.4">n=4</text>
<text x="466.53" y="540.70" font-size="5.1" fill="#5a5f66" fill-opacity="0.85">21</text>
<text x="466.73" y="547.60" font-size="2.8" textLength="6.5" lengthAdjust="spacingAndGlyphs" fill-opacity="0.4">n=4</text>
<text x="478.37" y="540.70" font-size="5.1" fill="#5a5f66" fill-opacity="0.85">15</text>
<text x="478.57" y="547.60" font-size="2.8" textLength="6.5" lengthAdjust="spacingAndGlyphs" fill-opacity="0.4">n=4</text>
<text x="383.70" y="563.10" font-size="5.1" fill="#5a5f66" fill-opacity="0.85">10</text>
<text x="383.90" y="570.00" font-size="2.8" textLength="6.5" lengthAdjust="spacingAndGlyphs" fill-opacity="0.4">n=4</text>
<text x="395.53" y="563.10" font-size="5.1" fill="#5a5f66" fill-opacity="0.85">14</text>
<text x="395.73" y="570.00" font-size="2.8" textLength="6.5" lengthAdjust="spacingAndGlyphs" fill-opacity="0.4">n=4</text>
<text x="407.37" y="563.10" font-size="5.1" fill="#5a5f66" fill-opacity="0.85">11</text>
<text x="407.57" y="570.00" font-size="2.8" textLength="6.5" lengthAdjust="spacingAndGlyphs" fill-opacity="0.4">n=4</text>
<text x="419.20" y="563.10" font-size="5.1" fill="#5a5f66" fill-opacity="0.85">11</text>
<text x="419.40" y="570.00" font-size="2.8" textLength="6.5" lengthAdjust="spacingAndGlyphs" fill-opacity="0.4">n=4</text>
<text x="431.03" y="563.10" font-size="5.1" fill="#5a5f66" fill-opacity="0.85">14</text>
<text x="431.23" y="570.00" font-size="2.8" textLength="6.5" lengthAdjust="spacingAndGlyphs" fill-opacity="0.4">n=4</text>
<text x="442.87" y="563.10" font-size="5.1" fill="#5a5f66" fill-opacity="0.85">16</text>
<text x="443.07" y="570.00" font-size="2.8" textLength="6.5" lengthAdjust="spacingAndGlyphs" fill-opacity="0.4">n=4</text>
<text x="454.70" y="563.10" font-size="5.1" fill="#5a5f66" fill-opacity="0.85">14</text>
<text x="454.90" y="570.00" font-size="2.8" textLength="6.5" lengthAdjust="spacingAndGlyphs" fill-opacity="0.4">n=4</text>
<text x="466.53" y="563.10" font-size="5.1" fill="#5a5f66" fill-opacity="0.85">20</text>
<text x="466.73" y="570.00" font-size="2.8" textLength="6.5" lengthAdjust="spacingAndGlyphs" fill-opacity="0.4">n=4</text>
<text x="478.37" y="563.10" font-size="5.1" fill="#5a5f66" fill-opacity="0.85">16</text>
<text x="478.57" y="570.00" font-size="2.8" textLength="6.5" lengthAdjust="spacingAndGlyphs" fill-opacity="0.4">n=4</text>
<text x="383.70" y="585.50" font-size="5.1" fill="#5a5f66" fill-opacity="0.85">6</text>
<text x="383.90" y="592.40" font-size="2.8" textLength="6.5" lengthAdjust="spacingAndGlyphs" fill-opacity="0.4">n=4</text>
<text x="395.53" y="585.50" font-size="5.1" fill="#5a5f66" fill-opacity="0.85">7</text>
<text x="395.73" y="592.40" font-size="2.8" textLength="6.5" lengthAdjust="spacingAndGlyphs" fill-opacity="0.4">n=4</text>
<text x="407.37" y="585.50" font-size="5.1" fill="#5a5f66" fill-opacity="0.85">9</text>
<text x="407.57" y="592.40" font-size="2.8" textLength="6.5" lengthAdjust="spacingAndGlyphs" fill-opacity="0.4">n=4</text>
<text x="419.20" y="585.50" font-size="5.1" fill="#5a5f66" fill-opacity="0.85">10</text>
<text x="419.40" y="592.40" font-size="2.8" textLength="6.5" lengthAdjust="spacingAndGlyphs" fill-opacity="0.4">n=4</text>
<text x="431.03" y="585.50" font-size="5.1" fill="#5a5f66" fill-opacity="0.85">11</text>
<text x="431.23" y="592.40" font-size="2.8" textLength="6.5" lengthAdjust="spacingAndGlyphs" fill-opacity="0.4">n=4</text>
<text x="442.87" y="585.50" font-size="5.1" fill="#5a5f66" fill-opacity="0.85">7</text>
<text x="443.07" y="592.40" font-size="2.8" textLength="6.5" lengthAdjust="spacingAndGlyphs" fill-opacity="0.4">n=4</text>
<text x="454.70" y="585.50" font-size="5.1" fill="#5a5f66" fill-opacity="0.85">9</text>
<text x="454.90" y="592.40" font-size="2.8" textLength="6.5" lengthAdjust="spacingAndGlyphs" fill-opacity="0.4">n=4</text>
<text x="466.53" y="585.50" font-size="5.1" fill="#5a5f66" fill-opacity="0.85">17</text>
<text x="466.73" y="592.40" font-size="2.8" textLength="6.5" lengthAdjust="spacingAndGlyphs" fill-opacity="0.4">n=4</text>
<text x="478.37" y="585.50" font-size="5.1" fill="#5a5f66" fill-opacity="0.85">13</text>
<text x="478.57" y="592.40" font-size="2.8" textLength="6.5" lengthAdjust="spacingAndGlyphs" fill-opacity="0.4">n=4</text>
<text x="383.70" y="607.90" font-size="5.1" fill="#5a5f66" fill-opacity="0.85">2</text>
<text x="383.90" y="614.80" font-size="2.8" textLength="6.5" lengthAdjust="spacingAndGlyphs" fill-opacity="0.4">n=4</text>
<text x="395.53" y="607.90" font-size="5.1" fill="#5a5f66" fill-opacity="0.85">7</text>
<text x="395.73" y="614.80" font-size="2.8" textLength="6.5" lengthAdjust="spacingAndGlyphs" fill-opacity="0.4">n=4</text>
<text x="407.37" y="607.90" font-size="5.1" fill="#5a5f66" fill-opacity="0.85">5</text>
<text x="407.57" y="614.80" font-size="2.8" textLength="6.5" lengthAdjust="spacingAndGlyphs" fill-opacity="0.4">n=4</text>
<text x="419.20" y="607.90" font-size="5.1" fill="#5a5f66" fill-opacity="0.85">4</text>
<text x="419.40" y="614.80" font-size="2.8" textLength="6.5" lengthAdjust="spacingAndGlyphs" fill-opacity="0.4">n=4</text>
<text x="431.03" y="607.90" font-size="5.1" fill="#5a5f66" fill-opacity="0.85">5</text>
<text x="431.23" y="614.80" font-size="2.8" textLength="6.5" lengthAdjust="spacingAndGlyphs" fill-opacity="0.4">n=4</text>
<text x="442.87" y="607.90" font-size="5.1" fill="#5a5f66" fill-opacity="0.85">8</text>
<text x="443.07" y="614.80" font-size="2.8" textLength="6.5" lengthAdjust="spacingAndGlyphs" fill-opacity="0.4">n=4</text>
<text x="454.70" y="607.90" font-size="5.1" fill="#5a5f66" fill-opacity="0.85">7</text>
<text x="454.90" y="614.80" font-size="2.8" textLength="6.5" lengthAdjust="spacingAndGlyphs" fill-opacity="0.4">n=4</text>
<text x="466.53" y="607.90" font-size="5.1" fill="#5a5f66" fill-opacity="0.85">16</text>
<text x="466.73" y="614.80" font-size="2.8" textLength="6.5" lengthAdjust="spacingAndGlyphs" fill-opacity="0.4">n=4</text>
<text x="478.37" y="607.90" font-size="5.1" fill="#5a5f66" fill-opacity="0.85">11</text>
<text x="478.57" y="614.80" font-size="2.8" textLength="6.5" lengthAdjust="spacingAndGlyphs" fill-opacity="0.4">n=4</text>
<text x="380.30" y="524.90" font-size="6.6" font-weight="bold" text-anchor="end" fill="#333" textLength="16" lengthAdjust="spacingAndGlyphs"><tspan font-style="italic">N</tspan> = 4</text>
<text x="434.20" y="519.30" font-size="6.4" text-anchor="middle" fill="#111" textLength="63.4" lengthAdjust="spacingAndGlyphs">SCH772984 (nmol/L)</text>
<text x="387.22" y="528.70" font-size="5.1" text-anchor="middle" fill="#333">0.46</text>
<text x="399.05" y="528.70" font-size="5.1" text-anchor="middle" fill="#333">1.37</text>
<text x="410.88" y="528.70" font-size="5.1" text-anchor="middle" fill="#333">4.1</text>
<text x="422.72" y="528.70" font-size="5.1" text-anchor="middle" fill="#333">12.3</text>
<text x="434.55" y="528.70" font-size="5.1" text-anchor="middle" fill="#333">37</text>
<text x="446.38" y="528.70" font-size="5.1" text-anchor="middle" fill="#333">111.1</text>
<text x="458.22" y="528.70" font-size="5.1" text-anchor="middle" fill="#333">333.3</text>
<text x="470.05" y="528.70" font-size="5.1" text-anchor="middle" fill="#333">1000</text>
<text x="481.88" y="528.70" font-size="5.1" text-anchor="middle" fill="#333">3000</text>
<text x="378.30" y="544.30" font-size="5.2" text-anchor="end" fill="#333">7.4</text>
<text x="378.30" y="566.70" font-size="5.2" text-anchor="end" fill="#333">22.2</text>
<text x="378.30" y="589.10" font-size="5.2" text-anchor="end" fill="#333">66.7</text>
<text x="378.30" y="611.50" font-size="5.2" text-anchor="end" fill="#333">200</text>
<text transform="translate(364.50,576.10) rotate(-90)" font-size="6.3" text-anchor="middle" fill="#222" textLength="62" lengthAdjust="spacingAndGlyphs">Selpercatinib (nmol/L)</text>
<defs><linearGradient id="jet381531" x1="0" y1="0" x2="0" y2="1"><stop offset="0.0000" stop-color="rgb(0,0,127)"/><stop offset="0.0625" stop-color="rgb(0,0,191)"/><stop offset="0.1250" stop-color="rgb(0,0,255)"/><stop offset="0.1875" stop-color="rgb(0,63,255)"/><stop offset="0.2500" stop-color="rgb(0,127,255)"/><stop offset="0.3125" stop-color="rgb(0,191,255)"/><stop offset="0.3750" stop-color="rgb(0,255,255)"/><stop offset="0.4375" stop-color="rgb(63,255,191)"/><stop offset="0.5000" stop-color="rgb(127,255,127)"/><stop offset="0.5625" stop-color="rgb(191,255,63)"/><stop offset="0.6250" stop-color="rgb(255,255,0)"/><stop offset="0.6875" stop-color="rgb(255,191,0)"/><stop offset="0.7500" stop-color="rgb(255,127,0)"/><stop offset="0.8125" stop-color="rgb(255,63,0)"/><stop offset="0.8750" stop-color="rgb(255,0,0)"/><stop offset="0.9375" stop-color="rgb(191,0,0)"/><stop offset="1.0000" stop-color="rgb(127,0,0)"/></linearGradient></defs>
<rect x="492.0" y="532.0999999999999" width="7.800000000000011" height="88.8" fill="url(#jet381531)"/>
<text transform="translate(506.60,553.80) rotate(-90)" font-size="5.0" text-anchor="middle" fill="#333" textLength="20" lengthAdjust="spacingAndGlyphs">Synergy</text>
<text transform="translate(506.60,596.60) rotate(-90)" font-size="5.0" text-anchor="middle" fill="#333" textLength="29" lengthAdjust="spacingAndGlyphs">Antagonism</text>
<text x="397.00" y="639.20" font-size="7.8" fill="#111" textLength="89" lengthAdjust="spacingAndGlyphs">Significant points (<tspan font-style="italic">P</tspan> &lt; 0.05):</text>
<text x="397.00" y="648.80" font-size="7.8" fill="#111" textLength="48.5" lengthAdjust="spacingAndGlyphs">Synergy: 25/36</text>
<text x="397.00" y="658.20" font-size="7.8" fill="#111" textLength="57" lengthAdjust="spacingAndGlyphs">Antagonism: 0/36</text>
</svg>
</body></html>
